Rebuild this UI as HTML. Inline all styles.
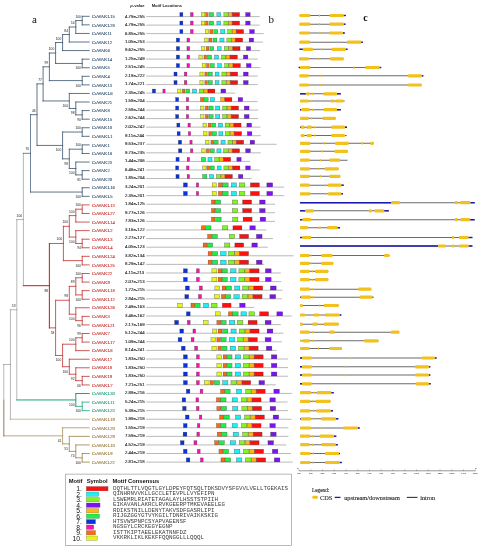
<!DOCTYPE html>
<html><head><meta charset="utf-8"><title>CsWAK / CsWAKL phylogeny, motifs and gene structure</title>
<style>
html,body{margin:0;padding:0;background:#fff;}
svg{display:block;}
text{white-space:pre;}
</style></head>
<body>
<svg width="480" height="550" viewBox="0 0 480 550">
<rect x="0" y="0" width="480" height="550" fill="#ffffff"/>
<g stroke-linecap="square" fill="none">
<line x1="3.80" y1="364.48" x2="3.80" y2="435.84" stroke="#7a7a7a" stroke-width="0.55"/>
<line x1="3.80" y1="364.48" x2="10.40" y2="364.48" stroke="#7a7a7a" stroke-width="0.55"/>
<line x1="10.40" y1="309.73" x2="10.40" y2="419.23" stroke="#7a7a7a" stroke-width="0.55"/>
<line x1="10.40" y1="309.73" x2="16.80" y2="309.73" stroke="#7a7a7a" stroke-width="0.55"/>
<line x1="16.80" y1="219.52" x2="16.80" y2="399.94" stroke="#7a7a7a" stroke-width="0.55"/>
<line x1="16.80" y1="219.52" x2="23.40" y2="219.52" stroke="#7a7a7a" stroke-width="0.55"/>
<line x1="23.40" y1="153.35" x2="23.40" y2="285.68" stroke="#7a7a7a" stroke-width="0.55"/>
<line x1="23.40" y1="153.35" x2="30.50" y2="153.35" stroke="#37526b" stroke-width="0.7"/>
<line x1="30.50" y1="114.66" x2="30.50" y2="192.05" stroke="#37526b" stroke-width="0.7"/>
<line x1="30.50" y1="114.66" x2="37.00" y2="114.66" stroke="#37526b" stroke-width="0.8"/>
<line x1="37.00" y1="83.88" x2="37.00" y2="145.43" stroke="#37526b" stroke-width="0.8"/>
<line x1="37.00" y1="83.88" x2="43.10" y2="83.88" stroke="#37526b" stroke-width="0.8"/>
<line x1="43.10" y1="66.80" x2="43.10" y2="100.96" stroke="#37526b" stroke-width="0.8"/>
<line x1="43.10" y1="66.80" x2="49.40" y2="66.80" stroke="#37526b" stroke-width="0.8"/>
<line x1="49.40" y1="53.00" x2="49.40" y2="80.60" stroke="#37526b" stroke-width="0.8"/>
<line x1="49.40" y1="53.00" x2="55.60" y2="53.00" stroke="#37526b" stroke-width="0.8"/>
<line x1="55.60" y1="42.55" x2="55.60" y2="63.45" stroke="#37526b" stroke-width="0.8"/>
<line x1="55.60" y1="42.55" x2="62.60" y2="42.55" stroke="#37526b" stroke-width="0.8"/>
<line x1="62.60" y1="34.52" x2="62.60" y2="50.59" stroke="#37526b" stroke-width="0.8"/>
<line x1="62.60" y1="34.52" x2="69.30" y2="34.52" stroke="#37526b" stroke-width="0.8"/>
<line x1="69.30" y1="27.02" x2="69.30" y2="42.02" stroke="#37526b" stroke-width="0.8"/>
<line x1="69.30" y1="27.02" x2="75.80" y2="27.02" stroke="#37526b" stroke-width="0.8"/>
<line x1="75.80" y1="20.59" x2="75.80" y2="33.45" stroke="#37526b" stroke-width="0.8"/>
<line x1="75.80" y1="20.59" x2="82.20" y2="20.59" stroke="#37526b" stroke-width="0.8"/>
<line x1="82.20" y1="16.30" x2="82.20" y2="24.87" stroke="#37526b" stroke-width="0.8"/>
<line x1="82.20" y1="16.30" x2="89.20" y2="16.30" stroke="#37526b" stroke-width="0.8"/>
<line x1="82.20" y1="24.87" x2="89.20" y2="24.87" stroke="#37526b" stroke-width="0.8"/>
<line x1="75.80" y1="33.45" x2="89.20" y2="33.45" stroke="#37526b" stroke-width="0.8"/>
<line x1="69.30" y1="42.02" x2="89.20" y2="42.02" stroke="#37526b" stroke-width="0.8"/>
<line x1="62.60" y1="50.59" x2="89.20" y2="50.59" stroke="#37526b" stroke-width="0.8"/>
<line x1="55.60" y1="63.45" x2="82.20" y2="63.45" stroke="#37526b" stroke-width="0.8"/>
<line x1="82.20" y1="59.17" x2="82.20" y2="67.74" stroke="#37526b" stroke-width="0.8"/>
<line x1="82.20" y1="59.17" x2="89.20" y2="59.17" stroke="#37526b" stroke-width="0.8"/>
<line x1="82.20" y1="67.74" x2="89.20" y2="67.74" stroke="#37526b" stroke-width="0.8"/>
<line x1="49.40" y1="80.60" x2="82.20" y2="80.60" stroke="#37526b" stroke-width="0.8"/>
<line x1="82.20" y1="76.31" x2="82.20" y2="84.88" stroke="#37526b" stroke-width="0.8"/>
<line x1="82.20" y1="76.31" x2="89.20" y2="76.31" stroke="#37526b" stroke-width="0.8"/>
<line x1="82.20" y1="84.88" x2="89.20" y2="84.88" stroke="#37526b" stroke-width="0.8"/>
<line x1="43.10" y1="100.96" x2="69.30" y2="100.96" stroke="#37526b" stroke-width="0.8"/>
<line x1="69.30" y1="93.46" x2="69.30" y2="108.46" stroke="#37526b" stroke-width="0.8"/>
<line x1="69.30" y1="93.46" x2="89.20" y2="93.46" stroke="#37526b" stroke-width="0.8"/>
<line x1="69.30" y1="108.46" x2="75.80" y2="108.46" stroke="#37526b" stroke-width="0.8"/>
<line x1="75.80" y1="102.03" x2="75.80" y2="114.89" stroke="#37526b" stroke-width="0.8"/>
<line x1="75.80" y1="102.03" x2="89.20" y2="102.03" stroke="#37526b" stroke-width="0.8"/>
<line x1="75.80" y1="114.89" x2="82.20" y2="114.89" stroke="#37526b" stroke-width="0.8"/>
<line x1="82.20" y1="110.60" x2="82.20" y2="119.18" stroke="#37526b" stroke-width="0.8"/>
<line x1="82.20" y1="110.60" x2="89.20" y2="110.60" stroke="#37526b" stroke-width="0.8"/>
<line x1="82.20" y1="119.18" x2="89.20" y2="119.18" stroke="#37526b" stroke-width="0.8"/>
<line x1="37.00" y1="145.43" x2="62.60" y2="145.43" stroke="#37526b" stroke-width="0.8"/>
<line x1="62.60" y1="132.04" x2="62.60" y2="158.83" stroke="#37526b" stroke-width="0.8"/>
<line x1="62.60" y1="132.04" x2="82.20" y2="132.04" stroke="#37526b" stroke-width="0.8"/>
<line x1="82.20" y1="127.75" x2="82.20" y2="136.32" stroke="#37526b" stroke-width="0.8"/>
<line x1="82.20" y1="127.75" x2="89.20" y2="127.75" stroke="#37526b" stroke-width="0.8"/>
<line x1="82.20" y1="136.32" x2="89.20" y2="136.32" stroke="#37526b" stroke-width="0.8"/>
<line x1="62.60" y1="158.83" x2="69.30" y2="158.83" stroke="#37526b" stroke-width="0.8"/>
<line x1="69.30" y1="149.18" x2="69.30" y2="168.47" stroke="#37526b" stroke-width="0.8"/>
<line x1="69.30" y1="149.18" x2="82.20" y2="149.18" stroke="#37526b" stroke-width="0.8"/>
<line x1="82.20" y1="144.90" x2="82.20" y2="153.47" stroke="#37526b" stroke-width="0.8"/>
<line x1="82.20" y1="144.90" x2="89.20" y2="144.90" stroke="#37526b" stroke-width="0.8"/>
<line x1="82.20" y1="153.47" x2="89.20" y2="153.47" stroke="#37526b" stroke-width="0.8"/>
<line x1="69.30" y1="168.47" x2="75.80" y2="168.47" stroke="#37526b" stroke-width="0.8"/>
<line x1="75.80" y1="162.04" x2="75.80" y2="174.90" stroke="#37526b" stroke-width="0.8"/>
<line x1="75.80" y1="162.04" x2="89.20" y2="162.04" stroke="#37526b" stroke-width="0.8"/>
<line x1="75.80" y1="174.90" x2="82.20" y2="174.90" stroke="#37526b" stroke-width="0.8"/>
<line x1="82.20" y1="170.61" x2="82.20" y2="179.19" stroke="#37526b" stroke-width="0.8"/>
<line x1="82.20" y1="170.61" x2="89.20" y2="170.61" stroke="#37526b" stroke-width="0.8"/>
<line x1="82.20" y1="179.19" x2="89.20" y2="179.19" stroke="#37526b" stroke-width="0.8"/>
<line x1="30.50" y1="192.05" x2="82.20" y2="192.05" stroke="#37526b" stroke-width="0.8"/>
<line x1="82.20" y1="187.76" x2="82.20" y2="196.33" stroke="#37526b" stroke-width="0.8"/>
<line x1="82.20" y1="187.76" x2="89.20" y2="187.76" stroke="#37526b" stroke-width="0.8"/>
<line x1="82.20" y1="196.33" x2="89.20" y2="196.33" stroke="#37526b" stroke-width="0.8"/>
<line x1="23.40" y1="285.68" x2="49.40" y2="285.68" stroke="#c4302e" stroke-width="1.1"/>
<line x1="49.40" y1="243.48" x2="49.40" y2="327.87" stroke="#c4302e" stroke-width="1.1"/>
<line x1="49.40" y1="243.48" x2="63.40" y2="243.48" stroke="#c4302e" stroke-width="0.8"/>
<line x1="63.40" y1="226.34" x2="63.40" y2="260.63" stroke="#c4302e" stroke-width="0.8"/>
<line x1="63.40" y1="226.34" x2="69.30" y2="226.34" stroke="#c4302e" stroke-width="0.8"/>
<line x1="69.30" y1="215.62" x2="69.30" y2="237.05" stroke="#c4302e" stroke-width="0.8"/>
<line x1="69.30" y1="215.62" x2="75.80" y2="215.62" stroke="#c4302e" stroke-width="0.8"/>
<line x1="75.80" y1="209.19" x2="75.80" y2="222.05" stroke="#c4302e" stroke-width="0.8"/>
<line x1="75.80" y1="209.19" x2="82.20" y2="209.19" stroke="#c4302e" stroke-width="0.8"/>
<line x1="82.20" y1="204.91" x2="82.20" y2="213.48" stroke="#c4302e" stroke-width="0.8"/>
<line x1="82.20" y1="204.91" x2="89.20" y2="204.91" stroke="#c4302e" stroke-width="0.8"/>
<line x1="82.20" y1="213.48" x2="89.20" y2="213.48" stroke="#c4302e" stroke-width="0.8"/>
<line x1="75.80" y1="222.05" x2="89.20" y2="222.05" stroke="#c4302e" stroke-width="0.8"/>
<line x1="69.30" y1="237.05" x2="75.80" y2="237.05" stroke="#c4302e" stroke-width="0.8"/>
<line x1="75.80" y1="230.63" x2="75.80" y2="243.48" stroke="#c4302e" stroke-width="0.8"/>
<line x1="75.80" y1="230.63" x2="89.20" y2="230.63" stroke="#c4302e" stroke-width="0.8"/>
<line x1="75.80" y1="243.48" x2="82.20" y2="243.48" stroke="#c4302e" stroke-width="0.8"/>
<line x1="82.20" y1="239.20" x2="82.20" y2="247.77" stroke="#c4302e" stroke-width="0.8"/>
<line x1="82.20" y1="239.20" x2="89.20" y2="239.20" stroke="#c4302e" stroke-width="0.8"/>
<line x1="82.20" y1="247.77" x2="89.20" y2="247.77" stroke="#c4302e" stroke-width="0.8"/>
<line x1="63.40" y1="260.63" x2="82.20" y2="260.63" stroke="#c4302e" stroke-width="0.8"/>
<line x1="82.20" y1="256.34" x2="82.20" y2="264.92" stroke="#c4302e" stroke-width="0.8"/>
<line x1="82.20" y1="256.34" x2="89.20" y2="256.34" stroke="#c4302e" stroke-width="0.8"/>
<line x1="82.20" y1="264.92" x2="89.20" y2="264.92" stroke="#c4302e" stroke-width="0.8"/>
<line x1="49.40" y1="327.87" x2="55.60" y2="327.87" stroke="#c4302e" stroke-width="0.8"/>
<line x1="55.60" y1="300.28" x2="55.60" y2="355.47" stroke="#c4302e" stroke-width="0.8"/>
<line x1="55.60" y1="300.28" x2="69.30" y2="300.28" stroke="#c4302e" stroke-width="0.8"/>
<line x1="69.30" y1="286.35" x2="69.30" y2="314.21" stroke="#c4302e" stroke-width="0.8"/>
<line x1="69.30" y1="286.35" x2="75.80" y2="286.35" stroke="#c4302e" stroke-width="0.8"/>
<line x1="75.80" y1="277.78" x2="75.80" y2="294.92" stroke="#c4302e" stroke-width="0.8"/>
<line x1="75.80" y1="277.78" x2="82.20" y2="277.78" stroke="#c4302e" stroke-width="0.8"/>
<line x1="82.20" y1="273.49" x2="82.20" y2="282.06" stroke="#c4302e" stroke-width="0.8"/>
<line x1="82.20" y1="273.49" x2="89.20" y2="273.49" stroke="#c4302e" stroke-width="0.8"/>
<line x1="82.20" y1="282.06" x2="89.20" y2="282.06" stroke="#c4302e" stroke-width="0.8"/>
<line x1="75.80" y1="294.92" x2="82.20" y2="294.92" stroke="#c4302e" stroke-width="0.8"/>
<line x1="82.20" y1="290.64" x2="82.20" y2="299.21" stroke="#c4302e" stroke-width="0.8"/>
<line x1="82.20" y1="290.64" x2="89.20" y2="290.64" stroke="#c4302e" stroke-width="0.8"/>
<line x1="82.20" y1="299.21" x2="89.20" y2="299.21" stroke="#c4302e" stroke-width="0.8"/>
<line x1="69.30" y1="314.21" x2="75.80" y2="314.21" stroke="#c4302e" stroke-width="0.8"/>
<line x1="75.80" y1="307.78" x2="75.80" y2="320.64" stroke="#c4302e" stroke-width="0.8"/>
<line x1="75.80" y1="307.78" x2="89.20" y2="307.78" stroke="#c4302e" stroke-width="0.8"/>
<line x1="75.80" y1="320.64" x2="82.20" y2="320.64" stroke="#c4302e" stroke-width="0.8"/>
<line x1="82.20" y1="316.36" x2="82.20" y2="324.93" stroke="#c4302e" stroke-width="0.8"/>
<line x1="82.20" y1="316.36" x2="89.20" y2="316.36" stroke="#c4302e" stroke-width="0.8"/>
<line x1="82.20" y1="324.93" x2="89.20" y2="324.93" stroke="#c4302e" stroke-width="0.8"/>
<line x1="55.60" y1="355.47" x2="62.60" y2="355.47" stroke="#c4302e" stroke-width="0.8"/>
<line x1="62.60" y1="344.22" x2="62.60" y2="366.72" stroke="#c4302e" stroke-width="0.8"/>
<line x1="62.60" y1="344.22" x2="75.80" y2="344.22" stroke="#c4302e" stroke-width="0.8"/>
<line x1="75.80" y1="337.79" x2="75.80" y2="350.65" stroke="#c4302e" stroke-width="0.8"/>
<line x1="75.80" y1="337.79" x2="82.20" y2="337.79" stroke="#c4302e" stroke-width="0.8"/>
<line x1="82.20" y1="333.50" x2="82.20" y2="342.07" stroke="#c4302e" stroke-width="0.8"/>
<line x1="82.20" y1="333.50" x2="89.20" y2="333.50" stroke="#c4302e" stroke-width="0.8"/>
<line x1="82.20" y1="342.07" x2="89.20" y2="342.07" stroke="#c4302e" stroke-width="0.8"/>
<line x1="75.80" y1="350.65" x2="89.20" y2="350.65" stroke="#c4302e" stroke-width="0.8"/>
<line x1="62.60" y1="366.72" x2="69.30" y2="366.72" stroke="#c4302e" stroke-width="0.8"/>
<line x1="69.30" y1="359.22" x2="69.30" y2="374.22" stroke="#c4302e" stroke-width="0.8"/>
<line x1="69.30" y1="359.22" x2="89.20" y2="359.22" stroke="#c4302e" stroke-width="0.8"/>
<line x1="69.30" y1="374.22" x2="75.80" y2="374.22" stroke="#c4302e" stroke-width="0.8"/>
<line x1="75.80" y1="367.79" x2="75.80" y2="380.65" stroke="#c4302e" stroke-width="0.8"/>
<line x1="75.80" y1="367.79" x2="89.20" y2="367.79" stroke="#c4302e" stroke-width="0.8"/>
<line x1="75.80" y1="380.65" x2="82.20" y2="380.65" stroke="#c4302e" stroke-width="0.8"/>
<line x1="82.20" y1="376.37" x2="82.20" y2="384.94" stroke="#c4302e" stroke-width="0.8"/>
<line x1="82.20" y1="376.37" x2="89.20" y2="376.37" stroke="#c4302e" stroke-width="0.8"/>
<line x1="82.20" y1="384.94" x2="89.20" y2="384.94" stroke="#c4302e" stroke-width="0.8"/>
<line x1="16.80" y1="399.94" x2="75.80" y2="399.94" stroke="#1ea672" stroke-width="1.0"/>
<line x1="75.80" y1="393.51" x2="75.80" y2="406.37" stroke="#1ea672" stroke-width="1.0"/>
<line x1="75.80" y1="393.51" x2="89.20" y2="393.51" stroke="#1ea672" stroke-width="1.0"/>
<line x1="75.80" y1="406.37" x2="82.20" y2="406.37" stroke="#1ea672" stroke-width="0.8"/>
<line x1="82.20" y1="402.09" x2="82.20" y2="410.66" stroke="#1ea672" stroke-width="0.8"/>
<line x1="82.20" y1="402.09" x2="89.20" y2="402.09" stroke="#1ea672" stroke-width="0.8"/>
<line x1="82.20" y1="410.66" x2="89.20" y2="410.66" stroke="#1ea672" stroke-width="0.8"/>
<line x1="10.40" y1="419.23" x2="89.20" y2="419.23" stroke="#9c8146" stroke-width="0.55"/>
<line x1="3.80" y1="435.84" x2="62.60" y2="435.84" stroke="#9c8146" stroke-width="0.7"/>
<line x1="62.60" y1="427.80" x2="62.60" y2="443.88" stroke="#9c8146" stroke-width="0.7"/>
<line x1="62.60" y1="427.80" x2="89.20" y2="427.80" stroke="#9c8146" stroke-width="0.7"/>
<line x1="62.60" y1="443.88" x2="69.30" y2="443.88" stroke="#9c8146" stroke-width="0.8"/>
<line x1="69.30" y1="436.38" x2="69.30" y2="451.38" stroke="#9c8146" stroke-width="0.8"/>
<line x1="69.30" y1="436.38" x2="89.20" y2="436.38" stroke="#9c8146" stroke-width="0.8"/>
<line x1="69.30" y1="451.38" x2="75.80" y2="451.38" stroke="#9c8146" stroke-width="0.8"/>
<line x1="75.80" y1="444.95" x2="75.80" y2="457.81" stroke="#9c8146" stroke-width="0.8"/>
<line x1="75.80" y1="444.95" x2="89.20" y2="444.95" stroke="#9c8146" stroke-width="0.8"/>
<line x1="75.80" y1="457.81" x2="82.20" y2="457.81" stroke="#9c8146" stroke-width="0.8"/>
<line x1="82.20" y1="453.52" x2="82.20" y2="462.10" stroke="#9c8146" stroke-width="0.8"/>
<line x1="82.20" y1="453.52" x2="89.20" y2="453.52" stroke="#9c8146" stroke-width="0.8"/>
<line x1="82.20" y1="462.10" x2="89.20" y2="462.10" stroke="#9c8146" stroke-width="0.8"/>
<line x1="3.80" y1="400.16" x2="3.80" y2="435.84" stroke="#9c8146" stroke-width="0.7"/>
</g>
<g font-family="'Liberation Sans', sans-serif" font-size="3.3" fill="#222" text-anchor="end">
<text x="15.50" y="306.73">53</text>
<text x="22.10" y="216.52">100</text>
<text x="29.20" y="150.35">70</text>
<text x="35.70" y="111.66">46</text>
<text x="41.80" y="80.88">77</text>
<text x="48.10" y="63.80">99</text>
<text x="54.30" y="50.00">100</text>
<text x="61.30" y="39.55">100</text>
<text x="68.00" y="31.52">84</text>
<text x="74.50" y="24.02">54</text>
<text x="80.90" y="17.59">100</text>
<text x="80.90" y="69.35">100</text>
<text x="80.90" y="86.50">100</text>
<text x="68.00" y="106.86">100</text>
<text x="74.50" y="114.36">98</text>
<text x="80.90" y="120.79">90</text>
<text x="61.30" y="151.33">100</text>
<text x="80.90" y="129.04">100</text>
<text x="68.00" y="164.73">98</text>
<text x="80.90" y="146.18">100</text>
<text x="74.50" y="174.37">100</text>
<text x="80.90" y="180.80">81</text>
<text x="80.90" y="197.95">100</text>
<text x="48.10" y="291.58">88</text>
<text x="62.10" y="240.48">100</text>
<text x="68.00" y="223.34">100</text>
<text x="74.50" y="212.62">100</text>
<text x="80.90" y="206.19">100</text>
<text x="74.50" y="242.95">100</text>
<text x="80.90" y="249.38">94</text>
<text x="80.90" y="266.53">100</text>
<text x="54.30" y="333.77">58</text>
<text x="68.00" y="297.28">98</text>
<text x="74.50" y="283.35">89</text>
<text x="80.90" y="274.78">100</text>
<text x="80.90" y="300.82">100</text>
<text x="74.50" y="320.11">100</text>
<text x="80.90" y="326.54">96</text>
<text x="61.30" y="361.37">100</text>
<text x="74.50" y="341.22">100</text>
<text x="80.90" y="334.79">99</text>
<text x="68.00" y="372.62">100</text>
<text x="74.50" y="380.12">92</text>
<text x="80.90" y="386.55">66</text>
<text x="74.50" y="405.84">100</text>
<text x="80.90" y="412.27">100</text>
<text x="61.30" y="441.74">41</text>
<text x="68.00" y="449.78">55</text>
<text x="74.50" y="457.28">74</text>
<text x="80.90" y="463.71">100</text>
</g>
<g font-family="'Liberation Serif', serif" font-size="4.65">
<text x="92" y="18.00" fill="#36536f" stroke="#36536f" stroke-width="0.1">CsWAKL15</text>
<text x="92" y="26.57" fill="#36536f" stroke="#36536f" stroke-width="0.1">CsWAKL28</text>
<text x="92" y="35.15" fill="#36536f" stroke="#36536f" stroke-width="0.1">CsWAK11</text>
<text x="92" y="43.72" fill="#36536f" stroke="#36536f" stroke-width="0.1">CsWAK12</text>
<text x="92" y="52.29" fill="#36536f" stroke="#36536f" stroke-width="0.1">CsWAK6</text>
<text x="92" y="60.87" fill="#36536f" stroke="#36536f" stroke-width="0.1">CsWAK14</text>
<text x="92" y="69.44" fill="#36536f" stroke="#36536f" stroke-width="0.1">CsWAK5</text>
<text x="92" y="78.01" fill="#36536f" stroke="#36536f" stroke-width="0.1">CsWAK4</text>
<text x="92" y="86.58" fill="#36536f" stroke="#36536f" stroke-width="0.1">CsWAK13</text>
<text x="92" y="95.16" fill="#36536f" stroke="#36536f" stroke-width="0.1">CsWAKL6</text>
<text x="92" y="103.73" fill="#36536f" stroke="#36536f" stroke-width="0.1">CsWAK21</text>
<text x="92" y="112.30" fill="#36536f" stroke="#36536f" stroke-width="0.1">CsWAK8</text>
<text x="92" y="120.88" fill="#36536f" stroke="#36536f" stroke-width="0.1">CsWAK15</text>
<text x="92" y="129.45" fill="#36536f" stroke="#36536f" stroke-width="0.1">CsWAK10</text>
<text x="92" y="138.02" fill="#36536f" stroke="#36536f" stroke-width="0.1">CsWAKL1</text>
<text x="92" y="146.59" fill="#36536f" stroke="#36536f" stroke-width="0.1">CsWAK1</text>
<text x="92" y="155.17" fill="#36536f" stroke="#36536f" stroke-width="0.1">CsWAK16</text>
<text x="92" y="163.74" fill="#36536f" stroke="#36536f" stroke-width="0.1">CsWAK23</text>
<text x="92" y="172.31" fill="#36536f" stroke="#36536f" stroke-width="0.1">CsWAK2</text>
<text x="92" y="180.89" fill="#36536f" stroke="#36536f" stroke-width="0.1">CsWAK20</text>
<text x="92" y="189.46" fill="#36536f" stroke="#36536f" stroke-width="0.1">CsWAKL16</text>
<text x="92" y="198.03" fill="#36536f" stroke="#36536f" stroke-width="0.1">CsWAKL5</text>
<text x="92" y="206.61" fill="#c2302e" stroke="#c2302e" stroke-width="0.1">CsWAKL13</text>
<text x="92" y="215.18" fill="#c2302e" stroke="#c2302e" stroke-width="0.1">CsWAKL27</text>
<text x="92" y="223.75" fill="#c2302e" stroke="#c2302e" stroke-width="0.1">CsWAKL14</text>
<text x="92" y="232.33" fill="#c2302e" stroke="#c2302e" stroke-width="0.1">CsWAKL2</text>
<text x="92" y="240.90" fill="#c2302e" stroke="#c2302e" stroke-width="0.1">CsWAKL3</text>
<text x="92" y="249.47" fill="#c2302e" stroke="#c2302e" stroke-width="0.1">CsWAKL4</text>
<text x="92" y="258.04" fill="#c2302e" stroke="#c2302e" stroke-width="0.1">CsWAKL24</text>
<text x="92" y="266.62" fill="#c2302e" stroke="#c2302e" stroke-width="0.1">CsWAKL25</text>
<text x="92" y="275.19" fill="#c2302e" stroke="#c2302e" stroke-width="0.1">CsWAK22</text>
<text x="92" y="283.76" fill="#c2302e" stroke="#c2302e" stroke-width="0.1">CsWAK9</text>
<text x="92" y="292.34" fill="#c2302e" stroke="#c2302e" stroke-width="0.1">CsWAKL18</text>
<text x="92" y="300.91" fill="#c2302e" stroke="#c2302e" stroke-width="0.1">CsWAKL12</text>
<text x="92" y="309.48" fill="#c2302e" stroke="#c2302e" stroke-width="0.1">CsWAKL26</text>
<text x="92" y="318.06" fill="#c2302e" stroke="#c2302e" stroke-width="0.1">CsWAK3</text>
<text x="92" y="326.63" fill="#c2302e" stroke="#c2302e" stroke-width="0.1">CsWAKL21</text>
<text x="92" y="335.20" fill="#c2302e" stroke="#c2302e" stroke-width="0.1">CsWAK7</text>
<text x="92" y="343.77" fill="#c2302e" stroke="#c2302e" stroke-width="0.1">CsWAKL17</text>
<text x="92" y="352.35" fill="#c2302e" stroke="#c2302e" stroke-width="0.1">CsWAKL8</text>
<text x="92" y="360.92" fill="#c2302e" stroke="#c2302e" stroke-width="0.1">CsWAK17</text>
<text x="92" y="369.49" fill="#c2302e" stroke="#c2302e" stroke-width="0.1">CsWAK18</text>
<text x="92" y="378.07" fill="#c2302e" stroke="#c2302e" stroke-width="0.1">CsWAK19</text>
<text x="92" y="386.64" fill="#c2302e" stroke="#c2302e" stroke-width="0.1">CsWAKL7</text>
<text x="92" y="395.21" fill="#1d9e70" stroke="#1d9e70" stroke-width="0.1">CsWAKL30</text>
<text x="92" y="403.79" fill="#1d9e70" stroke="#1d9e70" stroke-width="0.1">CsWAKL11</text>
<text x="92" y="412.36" fill="#1d9e70" stroke="#1d9e70" stroke-width="0.1">CsWAKL23</text>
<text x="92" y="420.93" fill="#96793c" stroke="#96793c" stroke-width="0.1">CsWAKL19</text>
<text x="92" y="429.50" fill="#96793c" stroke="#96793c" stroke-width="0.1">CsWAKL20</text>
<text x="92" y="438.08" fill="#96793c" stroke="#96793c" stroke-width="0.1">CsWAKL29</text>
<text x="92" y="446.65" fill="#96793c" stroke="#96793c" stroke-width="0.1">CsWAKL10</text>
<text x="92" y="455.22" fill="#96793c" stroke="#96793c" stroke-width="0.1">CsWAKL9</text>
<text x="92" y="463.80" fill="#96793c" stroke="#96793c" stroke-width="0.1">CsWAKL22</text>
</g>
<g font-family="'Liberation Sans', sans-serif" font-size="4.35" fill="#222" stroke="#222" stroke-width="0.12">
<text x="125" y="17.50">4.79e-255</text>
<text x="125" y="26.00">4.79e-255</text>
<text x="125" y="34.50">6.85e-255</text>
<text x="125" y="42.99">1.05e-253</text>
<text x="125" y="51.49">9.62e-255</text>
<text x="125" y="59.99">1.25e-249</text>
<text x="125" y="68.49">2.51e-245</text>
<text x="125" y="76.99">2.18e-222</text>
<text x="125" y="85.48">1.74e-221</text>
<text x="125" y="93.98">2.35e-245</text>
<text x="125" y="102.48">1.58e-204</text>
<text x="125" y="110.98">2.58e-244</text>
<text x="125" y="119.48">2.62e-244</text>
<text x="125" y="128.04">2.02e-242</text>
<text x="125" y="136.60">9.11e-244</text>
<text x="125" y="145.17">9.53e-237</text>
<text x="125" y="153.73">9.73e-235</text>
<text x="125" y="162.30">1.44e-206</text>
<text x="125" y="170.86">6.46e-241</text>
<text x="125" y="179.42">1.85e-204</text>
<text x="125" y="187.99">3.24e-201</text>
<text x="125" y="196.55">2.35e-201</text>
<text x="125" y="205.12">1.84e-125</text>
<text x="125" y="213.68">9.77e-126</text>
<text x="125" y="222.28">7.83e-126</text>
<text x="125" y="230.88">3.16e-122</text>
<text x="125" y="239.49">2.27e-127</text>
<text x="125" y="248.09">4.05e-123</text>
<text x="125" y="256.69">3.82e-134</text>
<text x="125" y="265.29">8.29e-142</text>
<text x="125" y="273.89">4.11e-213</text>
<text x="125" y="282.50">2.07e-213</text>
<text x="125" y="291.10">1.72e-215</text>
<text x="125" y="299.70">2.84e-215</text>
<text x="125" y="308.30">2.49e-163</text>
<text x="125" y="316.90">3.46e-162</text>
<text x="125" y="325.51">2.17e-169</text>
<text x="125" y="334.11">5.12e-244</text>
<text x="125" y="342.71">1.09e-244</text>
<text x="125" y="351.31">8.14e-241</text>
<text x="125" y="359.92">1.83e-250</text>
<text x="125" y="368.52">1.83e-250</text>
<text x="125" y="377.12">1.83e-250</text>
<text x="125" y="385.72">7.21e-251</text>
<text x="125" y="394.32">2.88e-216</text>
<text x="125" y="402.93">5.24e-215</text>
<text x="125" y="411.53">5.38e-215</text>
<text x="125" y="420.13">1.99e-218</text>
<text x="125" y="428.70">1.55e-219</text>
<text x="125" y="437.28">7.59e-219</text>
<text x="125" y="445.85">4.52e-219</text>
<text x="125" y="454.42">2.44e-219</text>
<text x="125" y="463.00">2.81e-218</text>
</g>
<g font-family="'Liberation Sans', sans-serif" font-size="4.1" font-weight="bold" fill="#222">
<text x="130.3" y="7"><tspan font-style="italic">p</tspan>-value</text>
<text x="151.7" y="7">Motif Locations</text>
</g>
<g font-family="'Liberation Serif', serif" fill="#111">
<text x="32" y="23" font-size="11">a</text>
<text x="268.5" y="22.7" font-size="11">b</text>
<text x="363.2" y="21" font-size="10" font-weight="bold">c</text>
</g>
<g>
<line x1="146.2" y1="16.60" x2="259.7" y2="16.60" stroke="#8c8c8c" stroke-width="0.6"/>
<rect x="179.85" y="12.60" width="3.00" height="3.8" fill="#0a32e0" stroke="#000" stroke-opacity="0.5" stroke-width="0.45"/>
<rect x="190.45" y="12.60" width="2.70" height="3.8" fill="#ff10b0" stroke="#000" stroke-opacity="0.5" stroke-width="0.45"/>
<rect x="201.35" y="12.60" width="3.50" height="3.8" fill="#e4f520" stroke="#000" stroke-opacity="0.5" stroke-width="0.45"/>
<rect x="205.65" y="12.60" width="2.50" height="3.8" fill="#ff6a10" stroke="#000" stroke-opacity="0.5" stroke-width="0.45"/>
<rect x="209.35" y="12.60" width="4.20" height="3.8" fill="#20ee4a" stroke="#000" stroke-opacity="0.5" stroke-width="0.45"/>
<rect x="216.85" y="12.60" width="3.80" height="3.8" fill="#20f0f5" stroke="#000" stroke-opacity="0.5" stroke-width="0.45"/>
<rect x="223.85" y="12.60" width="4.30" height="3.8" fill="#84f522" stroke="#000" stroke-opacity="0.5" stroke-width="0.45"/>
<rect x="228.45" y="12.60" width="3.60" height="3.8" fill="#ffb514" stroke="#000" stroke-opacity="0.5" stroke-width="0.45"/>
<rect x="232.35" y="12.60" width="7.20" height="3.8" fill="#ff1010" stroke="#000" stroke-opacity="0.5" stroke-width="0.45"/>
<rect x="245.65" y="12.60" width="4.50" height="3.8" fill="#7d14f0" stroke="#000" stroke-opacity="0.5" stroke-width="0.45"/>
<line x1="146.2" y1="25.10" x2="259.7" y2="25.10" stroke="#8c8c8c" stroke-width="0.6"/>
<rect x="179.85" y="21.10" width="3.00" height="3.8" fill="#0a32e0" stroke="#000" stroke-opacity="0.5" stroke-width="0.45"/>
<rect x="190.45" y="21.10" width="2.70" height="3.8" fill="#ff10b0" stroke="#000" stroke-opacity="0.5" stroke-width="0.45"/>
<rect x="201.35" y="21.10" width="3.50" height="3.8" fill="#e4f520" stroke="#000" stroke-opacity="0.5" stroke-width="0.45"/>
<rect x="205.65" y="21.10" width="2.50" height="3.8" fill="#ff6a10" stroke="#000" stroke-opacity="0.5" stroke-width="0.45"/>
<rect x="209.35" y="21.10" width="4.20" height="3.8" fill="#20ee4a" stroke="#000" stroke-opacity="0.5" stroke-width="0.45"/>
<rect x="216.85" y="21.10" width="3.80" height="3.8" fill="#20f0f5" stroke="#000" stroke-opacity="0.5" stroke-width="0.45"/>
<rect x="223.85" y="21.10" width="4.30" height="3.8" fill="#84f522" stroke="#000" stroke-opacity="0.5" stroke-width="0.45"/>
<rect x="228.45" y="21.10" width="3.60" height="3.8" fill="#ffb514" stroke="#000" stroke-opacity="0.5" stroke-width="0.45"/>
<rect x="232.35" y="21.10" width="7.20" height="3.8" fill="#ff1010" stroke="#000" stroke-opacity="0.5" stroke-width="0.45"/>
<rect x="245.65" y="21.10" width="4.50" height="3.8" fill="#7d14f0" stroke="#000" stroke-opacity="0.5" stroke-width="0.45"/>
<line x1="146.2" y1="33.60" x2="263.7" y2="33.60" stroke="#8c8c8c" stroke-width="0.6"/>
<rect x="179.85" y="29.60" width="3.00" height="3.8" fill="#0a32e0" stroke="#000" stroke-opacity="0.5" stroke-width="0.45"/>
<rect x="190.45" y="29.60" width="2.70" height="3.8" fill="#ff10b0" stroke="#000" stroke-opacity="0.5" stroke-width="0.45"/>
<rect x="205.45" y="29.60" width="3.20" height="3.8" fill="#e4f520" stroke="#000" stroke-opacity="0.5" stroke-width="0.45"/>
<rect x="209.85" y="29.60" width="3.00" height="3.8" fill="#ff6a10" stroke="#000" stroke-opacity="0.5" stroke-width="0.45"/>
<rect x="213.85" y="29.60" width="3.80" height="3.8" fill="#20ee4a" stroke="#000" stroke-opacity="0.5" stroke-width="0.45"/>
<rect x="220.65" y="29.60" width="4.20" height="3.8" fill="#20f0f5" stroke="#000" stroke-opacity="0.5" stroke-width="0.45"/>
<rect x="227.65" y="29.60" width="4.40" height="3.8" fill="#84f522" stroke="#000" stroke-opacity="0.5" stroke-width="0.45"/>
<rect x="232.35" y="29.60" width="3.70" height="3.8" fill="#ffb514" stroke="#000" stroke-opacity="0.5" stroke-width="0.45"/>
<rect x="236.35" y="29.60" width="7.20" height="3.8" fill="#ff1010" stroke="#000" stroke-opacity="0.5" stroke-width="0.45"/>
<rect x="249.65" y="29.60" width="4.70" height="3.8" fill="#7d14f0" stroke="#000" stroke-opacity="0.5" stroke-width="0.45"/>
<line x1="146.2" y1="42.09" x2="263.0" y2="42.09" stroke="#8c8c8c" stroke-width="0.6"/>
<rect x="176.35" y="38.09" width="3.20" height="3.8" fill="#0a32e0" stroke="#000" stroke-opacity="0.5" stroke-width="0.45"/>
<rect x="186.95" y="38.09" width="2.70" height="3.8" fill="#ff10b0" stroke="#000" stroke-opacity="0.5" stroke-width="0.45"/>
<rect x="204.65" y="38.09" width="3.50" height="3.8" fill="#e4f520" stroke="#000" stroke-opacity="0.5" stroke-width="0.45"/>
<rect x="208.95" y="38.09" width="2.90" height="3.8" fill="#ff6a10" stroke="#000" stroke-opacity="0.5" stroke-width="0.45"/>
<rect x="212.95" y="38.09" width="3.90" height="3.8" fill="#20ee4a" stroke="#000" stroke-opacity="0.5" stroke-width="0.45"/>
<rect x="219.85" y="38.09" width="4.20" height="3.8" fill="#20f0f5" stroke="#000" stroke-opacity="0.5" stroke-width="0.45"/>
<rect x="226.85" y="38.09" width="4.30" height="3.8" fill="#84f522" stroke="#000" stroke-opacity="0.5" stroke-width="0.45"/>
<rect x="231.45" y="38.09" width="3.70" height="3.8" fill="#ffb514" stroke="#000" stroke-opacity="0.5" stroke-width="0.45"/>
<rect x="235.45" y="38.09" width="7.20" height="3.8" fill="#ff1010" stroke="#000" stroke-opacity="0.5" stroke-width="0.45"/>
<rect x="249.15" y="38.09" width="4.50" height="3.8" fill="#7d14f0" stroke="#000" stroke-opacity="0.5" stroke-width="0.45"/>
<line x1="146.2" y1="50.59" x2="260.0" y2="50.59" stroke="#8c8c8c" stroke-width="0.6"/>
<rect x="176.35" y="46.59" width="3.20" height="3.8" fill="#0a32e0" stroke="#000" stroke-opacity="0.5" stroke-width="0.45"/>
<rect x="186.95" y="46.59" width="2.70" height="3.8" fill="#ff10b0" stroke="#000" stroke-opacity="0.5" stroke-width="0.45"/>
<rect x="201.45" y="46.59" width="3.40" height="3.8" fill="#e4f520" stroke="#000" stroke-opacity="0.5" stroke-width="0.45"/>
<rect x="206.15" y="46.59" width="2.70" height="3.8" fill="#ff6a10" stroke="#000" stroke-opacity="0.5" stroke-width="0.45"/>
<rect x="209.85" y="46.59" width="3.80" height="3.8" fill="#20ee4a" stroke="#000" stroke-opacity="0.5" stroke-width="0.45"/>
<rect x="217.35" y="46.59" width="3.80" height="3.8" fill="#20f0f5" stroke="#000" stroke-opacity="0.5" stroke-width="0.45"/>
<rect x="224.35" y="46.59" width="4.20" height="3.8" fill="#84f522" stroke="#000" stroke-opacity="0.5" stroke-width="0.45"/>
<rect x="228.85" y="46.59" width="3.70" height="3.8" fill="#ffb514" stroke="#000" stroke-opacity="0.5" stroke-width="0.45"/>
<rect x="232.85" y="46.59" width="7.20" height="3.8" fill="#ff1010" stroke="#000" stroke-opacity="0.5" stroke-width="0.45"/>
<rect x="246.35" y="46.59" width="4.30" height="3.8" fill="#7d14f0" stroke="#000" stroke-opacity="0.5" stroke-width="0.45"/>
<line x1="146.2" y1="59.09" x2="257.8" y2="59.09" stroke="#8c8c8c" stroke-width="0.6"/>
<rect x="176.35" y="55.09" width="3.20" height="3.8" fill="#0a32e0" stroke="#000" stroke-opacity="0.5" stroke-width="0.45"/>
<rect x="186.95" y="55.09" width="2.70" height="3.8" fill="#ff10b0" stroke="#000" stroke-opacity="0.5" stroke-width="0.45"/>
<rect x="198.85" y="55.09" width="3.50" height="3.8" fill="#e4f520" stroke="#000" stroke-opacity="0.5" stroke-width="0.45"/>
<rect x="203.95" y="55.09" width="2.60" height="3.8" fill="#ff6a10" stroke="#000" stroke-opacity="0.5" stroke-width="0.45"/>
<rect x="207.35" y="55.09" width="4.20" height="3.8" fill="#20ee4a" stroke="#000" stroke-opacity="0.5" stroke-width="0.45"/>
<rect x="214.65" y="55.09" width="3.90" height="3.8" fill="#20f0f5" stroke="#000" stroke-opacity="0.5" stroke-width="0.45"/>
<rect x="221.45" y="55.09" width="4.20" height="3.8" fill="#84f522" stroke="#000" stroke-opacity="0.5" stroke-width="0.45"/>
<rect x="225.95" y="55.09" width="3.90" height="3.8" fill="#ffb514" stroke="#000" stroke-opacity="0.5" stroke-width="0.45"/>
<rect x="230.15" y="55.09" width="7.20" height="3.8" fill="#ff1010" stroke="#000" stroke-opacity="0.5" stroke-width="0.45"/>
<rect x="243.45" y="55.09" width="4.40" height="3.8" fill="#7d14f0" stroke="#000" stroke-opacity="0.5" stroke-width="0.45"/>
<line x1="146.2" y1="67.59" x2="260.5" y2="67.59" stroke="#8c8c8c" stroke-width="0.6"/>
<rect x="176.35" y="63.59" width="3.20" height="3.8" fill="#0a32e0" stroke="#000" stroke-opacity="0.5" stroke-width="0.45"/>
<rect x="186.95" y="63.59" width="2.70" height="3.8" fill="#ff10b0" stroke="#000" stroke-opacity="0.5" stroke-width="0.45"/>
<rect x="202.15" y="63.59" width="3.50" height="3.8" fill="#e4f520" stroke="#000" stroke-opacity="0.5" stroke-width="0.45"/>
<rect x="206.65" y="63.59" width="2.50" height="3.8" fill="#ff6a10" stroke="#000" stroke-opacity="0.5" stroke-width="0.45"/>
<rect x="210.35" y="63.59" width="4.00" height="3.8" fill="#20ee4a" stroke="#000" stroke-opacity="0.5" stroke-width="0.45"/>
<rect x="217.65" y="63.59" width="3.90" height="3.8" fill="#20f0f5" stroke="#000" stroke-opacity="0.5" stroke-width="0.45"/>
<rect x="224.65" y="63.59" width="4.00" height="3.8" fill="#84f522" stroke="#000" stroke-opacity="0.5" stroke-width="0.45"/>
<rect x="228.95" y="63.59" width="3.90" height="3.8" fill="#ffb514" stroke="#000" stroke-opacity="0.5" stroke-width="0.45"/>
<rect x="233.15" y="63.59" width="7.20" height="3.8" fill="#ff1010" stroke="#000" stroke-opacity="0.5" stroke-width="0.45"/>
<rect x="246.45" y="63.59" width="4.60" height="3.8" fill="#7d14f0" stroke="#000" stroke-opacity="0.5" stroke-width="0.45"/>
<line x1="146.2" y1="76.09" x2="257.8" y2="76.09" stroke="#8c8c8c" stroke-width="0.6"/>
<rect x="173.95" y="72.09" width="3.10" height="3.8" fill="#0a32e0" stroke="#000" stroke-opacity="0.5" stroke-width="0.45"/>
<rect x="184.35" y="72.09" width="2.50" height="3.8" fill="#ff10b0" stroke="#000" stroke-opacity="0.5" stroke-width="0.45"/>
<rect x="199.85" y="72.09" width="3.30" height="3.8" fill="#e4f520" stroke="#000" stroke-opacity="0.5" stroke-width="0.45"/>
<rect x="204.85" y="72.09" width="2.50" height="3.8" fill="#ff6a10" stroke="#000" stroke-opacity="0.5" stroke-width="0.45"/>
<rect x="208.15" y="72.09" width="4.20" height="3.8" fill="#20ee4a" stroke="#000" stroke-opacity="0.5" stroke-width="0.45"/>
<rect x="215.15" y="72.09" width="3.90" height="3.8" fill="#20f0f5" stroke="#000" stroke-opacity="0.5" stroke-width="0.45"/>
<rect x="221.85" y="72.09" width="4.30" height="3.8" fill="#84f522" stroke="#000" stroke-opacity="0.5" stroke-width="0.45"/>
<rect x="226.45" y="72.09" width="3.70" height="3.8" fill="#ffb514" stroke="#000" stroke-opacity="0.5" stroke-width="0.45"/>
<rect x="230.45" y="72.09" width="7.20" height="3.8" fill="#ff1010" stroke="#000" stroke-opacity="0.5" stroke-width="0.45"/>
<rect x="243.45" y="72.09" width="4.70" height="3.8" fill="#7d14f0" stroke="#000" stroke-opacity="0.5" stroke-width="0.45"/>
<line x1="146.2" y1="84.58" x2="257.8" y2="84.58" stroke="#8c8c8c" stroke-width="0.6"/>
<rect x="173.95" y="80.58" width="3.10" height="3.8" fill="#0a32e0" stroke="#000" stroke-opacity="0.5" stroke-width="0.45"/>
<rect x="184.35" y="80.58" width="2.50" height="3.8" fill="#ff10b0" stroke="#000" stroke-opacity="0.5" stroke-width="0.45"/>
<rect x="199.85" y="80.58" width="3.30" height="3.8" fill="#e4f520" stroke="#000" stroke-opacity="0.5" stroke-width="0.45"/>
<rect x="204.85" y="80.58" width="2.50" height="3.8" fill="#ff6a10" stroke="#000" stroke-opacity="0.5" stroke-width="0.45"/>
<rect x="208.15" y="80.58" width="4.20" height="3.8" fill="#20ee4a" stroke="#000" stroke-opacity="0.5" stroke-width="0.45"/>
<rect x="215.15" y="80.58" width="3.90" height="3.8" fill="#20f0f5" stroke="#000" stroke-opacity="0.5" stroke-width="0.45"/>
<rect x="221.85" y="80.58" width="4.30" height="3.8" fill="#84f522" stroke="#000" stroke-opacity="0.5" stroke-width="0.45"/>
<rect x="226.45" y="80.58" width="3.70" height="3.8" fill="#ffb514" stroke="#000" stroke-opacity="0.5" stroke-width="0.45"/>
<rect x="230.45" y="80.58" width="7.20" height="3.8" fill="#ff1010" stroke="#000" stroke-opacity="0.5" stroke-width="0.45"/>
<rect x="243.45" y="80.58" width="4.70" height="3.8" fill="#7d14f0" stroke="#000" stroke-opacity="0.5" stroke-width="0.45"/>
<line x1="146.2" y1="93.08" x2="235.0" y2="93.08" stroke="#8c8c8c" stroke-width="0.6"/>
<rect x="152.35" y="89.08" width="3.20" height="3.8" fill="#0a32e0" stroke="#000" stroke-opacity="0.5" stroke-width="0.45"/>
<rect x="162.85" y="89.08" width="2.30" height="3.8" fill="#ff10b0" stroke="#000" stroke-opacity="0.5" stroke-width="0.45"/>
<rect x="177.65" y="89.08" width="3.40" height="3.8" fill="#e4f520" stroke="#000" stroke-opacity="0.5" stroke-width="0.45"/>
<rect x="182.35" y="89.08" width="2.50" height="3.8" fill="#ff6a10" stroke="#000" stroke-opacity="0.5" stroke-width="0.45"/>
<rect x="185.85" y="89.08" width="3.80" height="3.8" fill="#20ee4a" stroke="#000" stroke-opacity="0.5" stroke-width="0.45"/>
<rect x="192.45" y="89.08" width="4.10" height="3.8" fill="#20f0f5" stroke="#000" stroke-opacity="0.5" stroke-width="0.45"/>
<rect x="199.35" y="89.08" width="4.30" height="3.8" fill="#84f522" stroke="#000" stroke-opacity="0.5" stroke-width="0.45"/>
<rect x="203.95" y="89.08" width="3.70" height="3.8" fill="#ffb514" stroke="#000" stroke-opacity="0.5" stroke-width="0.45"/>
<rect x="207.95" y="89.08" width="6.90" height="3.8" fill="#ff1010" stroke="#000" stroke-opacity="0.5" stroke-width="0.45"/>
<rect x="220.95" y="89.08" width="4.70" height="3.8" fill="#7d14f0" stroke="#000" stroke-opacity="0.5" stroke-width="0.45"/>
<line x1="146.2" y1="101.58" x2="257.5" y2="101.58" stroke="#8c8c8c" stroke-width="0.6"/>
<rect x="175.65" y="97.58" width="3.00" height="3.8" fill="#0a32e0" stroke="#000" stroke-opacity="0.5" stroke-width="0.45"/>
<rect x="186.35" y="97.58" width="2.30" height="3.8" fill="#ff10b0" stroke="#000" stroke-opacity="0.5" stroke-width="0.45"/>
<rect x="200.45" y="97.58" width="3.10" height="3.8" fill="#ff6a10" stroke="#000" stroke-opacity="0.5" stroke-width="0.45"/>
<rect x="203.95" y="97.58" width="4.20" height="3.8" fill="#20ee4a" stroke="#000" stroke-opacity="0.5" stroke-width="0.45"/>
<rect x="210.45" y="97.58" width="4.10" height="3.8" fill="#20f0f5" stroke="#000" stroke-opacity="0.5" stroke-width="0.45"/>
<rect x="220.65" y="97.58" width="3.90" height="3.8" fill="#ffb514" stroke="#000" stroke-opacity="0.5" stroke-width="0.45"/>
<rect x="224.85" y="97.58" width="7.00" height="3.8" fill="#ff1010" stroke="#000" stroke-opacity="0.5" stroke-width="0.45"/>
<rect x="238.15" y="97.58" width="4.50" height="3.8" fill="#7d14f0" stroke="#000" stroke-opacity="0.5" stroke-width="0.45"/>
<line x1="146.2" y1="110.08" x2="258.3" y2="110.08" stroke="#8c8c8c" stroke-width="0.6"/>
<rect x="175.65" y="106.08" width="3.00" height="3.8" fill="#0a32e0" stroke="#000" stroke-opacity="0.5" stroke-width="0.45"/>
<rect x="186.35" y="106.08" width="2.30" height="3.8" fill="#ff10b0" stroke="#000" stroke-opacity="0.5" stroke-width="0.45"/>
<rect x="200.45" y="106.08" width="3.60" height="3.8" fill="#e4f520" stroke="#000" stroke-opacity="0.5" stroke-width="0.45"/>
<rect x="205.45" y="106.08" width="2.70" height="3.8" fill="#ff6a10" stroke="#000" stroke-opacity="0.5" stroke-width="0.45"/>
<rect x="208.95" y="106.08" width="4.20" height="3.8" fill="#20ee4a" stroke="#000" stroke-opacity="0.5" stroke-width="0.45"/>
<rect x="215.65" y="106.08" width="4.20" height="3.8" fill="#20f0f5" stroke="#000" stroke-opacity="0.5" stroke-width="0.45"/>
<rect x="222.65" y="106.08" width="4.20" height="3.8" fill="#84f522" stroke="#000" stroke-opacity="0.5" stroke-width="0.45"/>
<rect x="227.15" y="106.08" width="3.90" height="3.8" fill="#ffb514" stroke="#000" stroke-opacity="0.5" stroke-width="0.45"/>
<rect x="231.35" y="106.08" width="7.20" height="3.8" fill="#ff1010" stroke="#000" stroke-opacity="0.5" stroke-width="0.45"/>
<rect x="244.35" y="106.08" width="4.70" height="3.8" fill="#7d14f0" stroke="#000" stroke-opacity="0.5" stroke-width="0.45"/>
<line x1="146.2" y1="118.58" x2="258.3" y2="118.58" stroke="#8c8c8c" stroke-width="0.6"/>
<rect x="175.65" y="114.58" width="3.00" height="3.8" fill="#0a32e0" stroke="#000" stroke-opacity="0.5" stroke-width="0.45"/>
<rect x="186.35" y="114.58" width="2.30" height="3.8" fill="#ff10b0" stroke="#000" stroke-opacity="0.5" stroke-width="0.45"/>
<rect x="200.45" y="114.58" width="3.60" height="3.8" fill="#e4f520" stroke="#000" stroke-opacity="0.5" stroke-width="0.45"/>
<rect x="205.45" y="114.58" width="2.70" height="3.8" fill="#ff6a10" stroke="#000" stroke-opacity="0.5" stroke-width="0.45"/>
<rect x="208.95" y="114.58" width="4.20" height="3.8" fill="#20ee4a" stroke="#000" stroke-opacity="0.5" stroke-width="0.45"/>
<rect x="215.65" y="114.58" width="4.20" height="3.8" fill="#20f0f5" stroke="#000" stroke-opacity="0.5" stroke-width="0.45"/>
<rect x="222.65" y="114.58" width="4.20" height="3.8" fill="#84f522" stroke="#000" stroke-opacity="0.5" stroke-width="0.45"/>
<rect x="227.15" y="114.58" width="3.90" height="3.8" fill="#ffb514" stroke="#000" stroke-opacity="0.5" stroke-width="0.45"/>
<rect x="231.35" y="114.58" width="7.20" height="3.8" fill="#ff1010" stroke="#000" stroke-opacity="0.5" stroke-width="0.45"/>
<rect x="244.35" y="114.58" width="4.70" height="3.8" fill="#7d14f0" stroke="#000" stroke-opacity="0.5" stroke-width="0.45"/>
<line x1="146.2" y1="127.14" x2="260.5" y2="127.14" stroke="#8c8c8c" stroke-width="0.6"/>
<rect x="176.85" y="123.14" width="3.00" height="3.8" fill="#0a32e0" stroke="#000" stroke-opacity="0.5" stroke-width="0.45"/>
<rect x="187.95" y="123.14" width="2.40" height="3.8" fill="#ff10b0" stroke="#000" stroke-opacity="0.5" stroke-width="0.45"/>
<rect x="202.95" y="123.14" width="3.60" height="3.8" fill="#e4f520" stroke="#000" stroke-opacity="0.5" stroke-width="0.45"/>
<rect x="208.15" y="123.14" width="2.90" height="3.8" fill="#ff6a10" stroke="#000" stroke-opacity="0.5" stroke-width="0.45"/>
<rect x="211.85" y="123.14" width="3.80" height="3.8" fill="#20ee4a" stroke="#000" stroke-opacity="0.5" stroke-width="0.45"/>
<rect x="218.45" y="123.14" width="4.20" height="3.8" fill="#20f0f5" stroke="#000" stroke-opacity="0.5" stroke-width="0.45"/>
<rect x="225.15" y="123.14" width="4.40" height="3.8" fill="#84f522" stroke="#000" stroke-opacity="0.5" stroke-width="0.45"/>
<rect x="229.85" y="123.14" width="3.70" height="3.8" fill="#ffb514" stroke="#000" stroke-opacity="0.5" stroke-width="0.45"/>
<rect x="233.85" y="123.14" width="7.20" height="3.8" fill="#ff1010" stroke="#000" stroke-opacity="0.5" stroke-width="0.45"/>
<rect x="246.85" y="123.14" width="4.70" height="3.8" fill="#7d14f0" stroke="#000" stroke-opacity="0.5" stroke-width="0.45"/>
<line x1="146.2" y1="135.70" x2="260.8" y2="135.70" stroke="#8c8c8c" stroke-width="0.6"/>
<rect x="177.15" y="131.70" width="3.00" height="3.8" fill="#0a32e0" stroke="#000" stroke-opacity="0.5" stroke-width="0.45"/>
<rect x="188.35" y="131.70" width="2.30" height="3.8" fill="#ff10b0" stroke="#000" stroke-opacity="0.5" stroke-width="0.45"/>
<rect x="203.45" y="131.70" width="3.60" height="3.8" fill="#e4f520" stroke="#000" stroke-opacity="0.5" stroke-width="0.45"/>
<rect x="208.85" y="131.70" width="2.70" height="3.8" fill="#ff6a10" stroke="#000" stroke-opacity="0.5" stroke-width="0.45"/>
<rect x="212.15" y="131.70" width="4.40" height="3.8" fill="#20ee4a" stroke="#000" stroke-opacity="0.5" stroke-width="0.45"/>
<rect x="218.85" y="131.70" width="4.00" height="3.8" fill="#20f0f5" stroke="#000" stroke-opacity="0.5" stroke-width="0.45"/>
<rect x="225.45" y="131.70" width="4.40" height="3.8" fill="#84f522" stroke="#000" stroke-opacity="0.5" stroke-width="0.45"/>
<rect x="230.15" y="131.70" width="3.90" height="3.8" fill="#ffb514" stroke="#000" stroke-opacity="0.5" stroke-width="0.45"/>
<rect x="234.35" y="131.70" width="7.20" height="3.8" fill="#ff1010" stroke="#000" stroke-opacity="0.5" stroke-width="0.45"/>
<rect x="247.35" y="131.70" width="4.50" height="3.8" fill="#7d14f0" stroke="#000" stroke-opacity="0.5" stroke-width="0.45"/>
<line x1="146.2" y1="144.27" x2="276.7" y2="144.27" stroke="#8c8c8c" stroke-width="0.6"/>
<rect x="178.35" y="140.27" width="3.20" height="3.8" fill="#0a32e0" stroke="#000" stroke-opacity="0.5" stroke-width="0.45"/>
<rect x="189.85" y="140.27" width="2.30" height="3.8" fill="#ff10b0" stroke="#000" stroke-opacity="0.5" stroke-width="0.45"/>
<rect x="205.45" y="140.27" width="3.60" height="3.8" fill="#e4f520" stroke="#000" stroke-opacity="0.5" stroke-width="0.45"/>
<rect x="210.95" y="140.27" width="2.40" height="3.8" fill="#ff6a10" stroke="#000" stroke-opacity="0.5" stroke-width="0.45"/>
<rect x="213.85" y="140.27" width="4.30" height="3.8" fill="#20ee4a" stroke="#000" stroke-opacity="0.5" stroke-width="0.45"/>
<rect x="220.95" y="140.27" width="4.20" height="3.8" fill="#20f0f5" stroke="#000" stroke-opacity="0.5" stroke-width="0.45"/>
<rect x="227.95" y="140.27" width="4.40" height="3.8" fill="#84f522" stroke="#000" stroke-opacity="0.5" stroke-width="0.45"/>
<rect x="232.65" y="140.27" width="3.50" height="3.8" fill="#ffb514" stroke="#000" stroke-opacity="0.5" stroke-width="0.45"/>
<rect x="236.45" y="140.27" width="7.20" height="3.8" fill="#ff1010" stroke="#000" stroke-opacity="0.5" stroke-width="0.45"/>
<rect x="250.15" y="140.27" width="4.40" height="3.8" fill="#7d14f0" stroke="#000" stroke-opacity="0.5" stroke-width="0.45"/>
<line x1="146.2" y1="152.83" x2="260.8" y2="152.83" stroke="#8c8c8c" stroke-width="0.6"/>
<rect x="178.45" y="148.83" width="3.40" height="3.8" fill="#0a32e0" stroke="#000" stroke-opacity="0.5" stroke-width="0.45"/>
<rect x="190.45" y="148.83" width="2.40" height="3.8" fill="#ff10b0" stroke="#000" stroke-opacity="0.5" stroke-width="0.45"/>
<rect x="201.45" y="148.83" width="3.70" height="3.8" fill="#e4f520" stroke="#000" stroke-opacity="0.5" stroke-width="0.45"/>
<rect x="206.35" y="148.83" width="3.00" height="3.8" fill="#ff6a10" stroke="#000" stroke-opacity="0.5" stroke-width="0.45"/>
<rect x="210.15" y="148.83" width="4.20" height="3.8" fill="#20ee4a" stroke="#000" stroke-opacity="0.5" stroke-width="0.45"/>
<rect x="216.85" y="148.83" width="4.20" height="3.8" fill="#20f0f5" stroke="#000" stroke-opacity="0.5" stroke-width="0.45"/>
<rect x="223.45" y="148.83" width="4.70" height="3.8" fill="#84f522" stroke="#000" stroke-opacity="0.5" stroke-width="0.45"/>
<rect x="228.45" y="148.83" width="3.60" height="3.8" fill="#ffb514" stroke="#000" stroke-opacity="0.5" stroke-width="0.45"/>
<rect x="232.35" y="148.83" width="7.20" height="3.8" fill="#ff1010" stroke="#000" stroke-opacity="0.5" stroke-width="0.45"/>
<rect x="245.65" y="148.83" width="4.70" height="3.8" fill="#7d14f0" stroke="#000" stroke-opacity="0.5" stroke-width="0.45"/>
<line x1="146.2" y1="161.40" x2="250.0" y2="161.40" stroke="#8c8c8c" stroke-width="0.6"/>
<rect x="175.95" y="157.40" width="3.20" height="3.8" fill="#0a32e0" stroke="#000" stroke-opacity="0.5" stroke-width="0.45"/>
<rect x="187.15" y="157.40" width="2.40" height="3.8" fill="#ff10b0" stroke="#000" stroke-opacity="0.5" stroke-width="0.45"/>
<rect x="201.35" y="157.40" width="4.30" height="3.8" fill="#20ee4a" stroke="#000" stroke-opacity="0.5" stroke-width="0.45"/>
<rect x="207.95" y="157.40" width="4.10" height="3.8" fill="#20f0f5" stroke="#000" stroke-opacity="0.5" stroke-width="0.45"/>
<rect x="214.65" y="157.40" width="4.40" height="3.8" fill="#84f522" stroke="#000" stroke-opacity="0.5" stroke-width="0.45"/>
<rect x="219.35" y="157.40" width="3.80" height="3.8" fill="#ffb514" stroke="#000" stroke-opacity="0.5" stroke-width="0.45"/>
<rect x="223.45" y="157.40" width="7.20" height="3.8" fill="#ff1010" stroke="#000" stroke-opacity="0.5" stroke-width="0.45"/>
<rect x="236.85" y="157.40" width="4.30" height="3.8" fill="#7d14f0" stroke="#000" stroke-opacity="0.5" stroke-width="0.45"/>
<line x1="146.2" y1="169.96" x2="259.7" y2="169.96" stroke="#8c8c8c" stroke-width="0.6"/>
<rect x="175.65" y="165.96" width="3.00" height="3.8" fill="#0a32e0" stroke="#000" stroke-opacity="0.5" stroke-width="0.45"/>
<rect x="186.45" y="165.96" width="2.60" height="3.8" fill="#ff10b0" stroke="#000" stroke-opacity="0.5" stroke-width="0.45"/>
<rect x="202.65" y="165.96" width="3.40" height="3.8" fill="#e4f520" stroke="#000" stroke-opacity="0.5" stroke-width="0.45"/>
<rect x="206.85" y="165.96" width="2.70" height="3.8" fill="#ff6a10" stroke="#000" stroke-opacity="0.5" stroke-width="0.45"/>
<rect x="210.15" y="165.96" width="4.20" height="3.8" fill="#20ee4a" stroke="#000" stroke-opacity="0.5" stroke-width="0.45"/>
<rect x="217.15" y="165.96" width="4.00" height="3.8" fill="#20f0f5" stroke="#000" stroke-opacity="0.5" stroke-width="0.45"/>
<rect x="223.85" y="165.96" width="4.30" height="3.8" fill="#84f522" stroke="#000" stroke-opacity="0.5" stroke-width="0.45"/>
<rect x="228.45" y="165.96" width="3.90" height="3.8" fill="#ffb514" stroke="#000" stroke-opacity="0.5" stroke-width="0.45"/>
<rect x="232.65" y="165.96" width="7.20" height="3.8" fill="#ff1010" stroke="#000" stroke-opacity="0.5" stroke-width="0.45"/>
<rect x="245.65" y="165.96" width="4.70" height="3.8" fill="#7d14f0" stroke="#000" stroke-opacity="0.5" stroke-width="0.45"/>
<line x1="146.2" y1="178.52" x2="251.7" y2="178.52" stroke="#8c8c8c" stroke-width="0.6"/>
<rect x="175.95" y="174.52" width="3.20" height="3.8" fill="#0a32e0" stroke="#000" stroke-opacity="0.5" stroke-width="0.45"/>
<rect x="187.15" y="174.52" width="2.40" height="3.8" fill="#ff10b0" stroke="#000" stroke-opacity="0.5" stroke-width="0.45"/>
<rect x="202.65" y="174.52" width="4.20" height="3.8" fill="#20ee4a" stroke="#000" stroke-opacity="0.5" stroke-width="0.45"/>
<rect x="209.65" y="174.52" width="4.00" height="3.8" fill="#20f0f5" stroke="#000" stroke-opacity="0.5" stroke-width="0.45"/>
<rect x="216.45" y="174.52" width="4.20" height="3.8" fill="#84f522" stroke="#000" stroke-opacity="0.5" stroke-width="0.45"/>
<rect x="220.95" y="174.52" width="3.90" height="3.8" fill="#ffb514" stroke="#000" stroke-opacity="0.5" stroke-width="0.45"/>
<rect x="225.15" y="174.52" width="7.20" height="3.8" fill="#ff1010" stroke="#000" stroke-opacity="0.5" stroke-width="0.45"/>
<rect x="238.45" y="174.52" width="4.40" height="3.8" fill="#7d14f0" stroke="#000" stroke-opacity="0.5" stroke-width="0.45"/>
<line x1="146.2" y1="187.09" x2="284.2" y2="187.09" stroke="#8c8c8c" stroke-width="0.6"/>
<rect x="183.45" y="182.89" width="3.90" height="4.0" fill="#0a32e0" stroke="#000" stroke-opacity="0.5" stroke-width="0.45"/>
<rect x="196.35" y="182.89" width="2.30" height="4.0" fill="#ff10b0" stroke="#000" stroke-opacity="0.5" stroke-width="0.45"/>
<rect x="212.15" y="182.89" width="4.20" height="4.0" fill="#e4f520" stroke="#000" stroke-opacity="0.5" stroke-width="0.45"/>
<rect x="218.45" y="182.89" width="3.90" height="4.0" fill="#ff6a10" stroke="#000" stroke-opacity="0.5" stroke-width="0.45"/>
<rect x="222.65" y="182.89" width="5.50" height="4.0" fill="#20ee4a" stroke="#000" stroke-opacity="0.5" stroke-width="0.45"/>
<rect x="231.35" y="182.89" width="5.20" height="4.0" fill="#20f0f5" stroke="#000" stroke-opacity="0.5" stroke-width="0.45"/>
<rect x="239.35" y="182.89" width="5.50" height="4.0" fill="#84f522" stroke="#000" stroke-opacity="0.5" stroke-width="0.45"/>
<rect x="250.45" y="182.89" width="8.90" height="4.0" fill="#ff1010" stroke="#000" stroke-opacity="0.5" stroke-width="0.45"/>
<rect x="266.85" y="182.89" width="5.80" height="4.0" fill="#7d14f0" stroke="#000" stroke-opacity="0.5" stroke-width="0.45"/>
<line x1="146.2" y1="195.65" x2="284.2" y2="195.65" stroke="#8c8c8c" stroke-width="0.6"/>
<rect x="183.45" y="191.45" width="3.90" height="4.0" fill="#0a32e0" stroke="#000" stroke-opacity="0.5" stroke-width="0.45"/>
<rect x="196.35" y="191.45" width="2.30" height="4.0" fill="#ff10b0" stroke="#000" stroke-opacity="0.5" stroke-width="0.45"/>
<rect x="212.15" y="191.45" width="4.20" height="4.0" fill="#e4f520" stroke="#000" stroke-opacity="0.5" stroke-width="0.45"/>
<rect x="218.45" y="191.45" width="3.90" height="4.0" fill="#ff6a10" stroke="#000" stroke-opacity="0.5" stroke-width="0.45"/>
<rect x="222.65" y="191.45" width="5.50" height="4.0" fill="#20ee4a" stroke="#000" stroke-opacity="0.5" stroke-width="0.45"/>
<rect x="231.35" y="191.45" width="5.20" height="4.0" fill="#20f0f5" stroke="#000" stroke-opacity="0.5" stroke-width="0.45"/>
<rect x="239.35" y="191.45" width="5.50" height="4.0" fill="#84f522" stroke="#000" stroke-opacity="0.5" stroke-width="0.45"/>
<rect x="250.45" y="191.45" width="8.90" height="4.0" fill="#ff1010" stroke="#000" stroke-opacity="0.5" stroke-width="0.45"/>
<rect x="266.85" y="191.45" width="5.80" height="4.0" fill="#7d14f0" stroke="#000" stroke-opacity="0.5" stroke-width="0.45"/>
<line x1="146.2" y1="204.22" x2="275.0" y2="204.22" stroke="#8c8c8c" stroke-width="0.6"/>
<rect x="211.45" y="200.02" width="3.40" height="4.0" fill="#ff6a10" stroke="#000" stroke-opacity="0.5" stroke-width="0.45"/>
<rect x="215.15" y="200.02" width="5.50" height="4.0" fill="#20ee4a" stroke="#000" stroke-opacity="0.5" stroke-width="0.45"/>
<rect x="232.35" y="200.02" width="5.30" height="4.0" fill="#84f522" stroke="#000" stroke-opacity="0.5" stroke-width="0.45"/>
<rect x="242.65" y="200.02" width="8.90" height="4.0" fill="#ff1010" stroke="#000" stroke-opacity="0.5" stroke-width="0.45"/>
<rect x="259.65" y="200.02" width="5.50" height="4.0" fill="#7d14f0" stroke="#000" stroke-opacity="0.5" stroke-width="0.45"/>
<line x1="146.2" y1="212.78" x2="275.0" y2="212.78" stroke="#8c8c8c" stroke-width="0.6"/>
<rect x="211.45" y="208.58" width="3.40" height="4.0" fill="#ff6a10" stroke="#000" stroke-opacity="0.5" stroke-width="0.45"/>
<rect x="215.15" y="208.58" width="5.50" height="4.0" fill="#20ee4a" stroke="#000" stroke-opacity="0.5" stroke-width="0.45"/>
<rect x="232.35" y="208.58" width="5.30" height="4.0" fill="#84f522" stroke="#000" stroke-opacity="0.5" stroke-width="0.45"/>
<rect x="242.65" y="208.58" width="8.90" height="4.0" fill="#ff1010" stroke="#000" stroke-opacity="0.5" stroke-width="0.45"/>
<rect x="259.65" y="208.58" width="5.50" height="4.0" fill="#7d14f0" stroke="#000" stroke-opacity="0.5" stroke-width="0.45"/>
<line x1="146.2" y1="221.38" x2="275.0" y2="221.38" stroke="#8c8c8c" stroke-width="0.6"/>
<rect x="211.45" y="217.18" width="3.40" height="4.0" fill="#ff6a10" stroke="#000" stroke-opacity="0.5" stroke-width="0.45"/>
<rect x="215.65" y="217.18" width="5.50" height="4.0" fill="#20ee4a" stroke="#000" stroke-opacity="0.5" stroke-width="0.45"/>
<rect x="232.65" y="217.18" width="5.20" height="4.0" fill="#84f522" stroke="#000" stroke-opacity="0.5" stroke-width="0.45"/>
<rect x="243.15" y="217.18" width="8.90" height="4.0" fill="#ff1010" stroke="#000" stroke-opacity="0.5" stroke-width="0.45"/>
<rect x="260.15" y="217.18" width="5.50" height="4.0" fill="#7d14f0" stroke="#000" stroke-opacity="0.5" stroke-width="0.45"/>
<line x1="146.2" y1="229.98" x2="266.3" y2="229.98" stroke="#8c8c8c" stroke-width="0.6"/>
<rect x="201.45" y="225.78" width="3.70" height="4.0" fill="#ff6a10" stroke="#000" stroke-opacity="0.5" stroke-width="0.45"/>
<rect x="205.65" y="225.78" width="5.40" height="4.0" fill="#20ee4a" stroke="#000" stroke-opacity="0.5" stroke-width="0.45"/>
<rect x="222.35" y="225.78" width="5.50" height="4.0" fill="#84f522" stroke="#000" stroke-opacity="0.5" stroke-width="0.45"/>
<rect x="232.95" y="225.78" width="8.90" height="4.0" fill="#ff1010" stroke="#000" stroke-opacity="0.5" stroke-width="0.45"/>
<rect x="249.85" y="225.78" width="5.50" height="4.0" fill="#7d14f0" stroke="#000" stroke-opacity="0.5" stroke-width="0.45"/>
<line x1="146.2" y1="238.59" x2="273.0" y2="238.59" stroke="#8c8c8c" stroke-width="0.6"/>
<rect x="207.65" y="234.39" width="3.90" height="4.0" fill="#ff6a10" stroke="#000" stroke-opacity="0.5" stroke-width="0.45"/>
<rect x="211.95" y="234.39" width="5.40" height="4.0" fill="#20ee4a" stroke="#000" stroke-opacity="0.5" stroke-width="0.45"/>
<rect x="229.35" y="234.39" width="5.20" height="4.0" fill="#84f522" stroke="#000" stroke-opacity="0.5" stroke-width="0.45"/>
<rect x="239.65" y="234.39" width="8.90" height="4.0" fill="#ff1010" stroke="#000" stroke-opacity="0.5" stroke-width="0.45"/>
<rect x="256.45" y="234.39" width="5.60" height="4.0" fill="#7d14f0" stroke="#000" stroke-opacity="0.5" stroke-width="0.45"/>
<line x1="146.2" y1="247.19" x2="267.8" y2="247.19" stroke="#8c8c8c" stroke-width="0.6"/>
<rect x="203.15" y="242.99" width="3.70" height="4.0" fill="#ff6a10" stroke="#000" stroke-opacity="0.5" stroke-width="0.45"/>
<rect x="207.35" y="242.99" width="5.30" height="4.0" fill="#20ee4a" stroke="#000" stroke-opacity="0.5" stroke-width="0.45"/>
<rect x="224.65" y="242.99" width="5.20" height="4.0" fill="#84f522" stroke="#000" stroke-opacity="0.5" stroke-width="0.45"/>
<rect x="234.85" y="242.99" width="8.80" height="4.0" fill="#ff1010" stroke="#000" stroke-opacity="0.5" stroke-width="0.45"/>
<rect x="251.85" y="242.99" width="5.50" height="4.0" fill="#7d14f0" stroke="#000" stroke-opacity="0.5" stroke-width="0.45"/>
<line x1="146.2" y1="255.79" x2="293.6" y2="255.79" stroke="#8c8c8c" stroke-width="0.6"/>
<rect x="208.15" y="251.59" width="3.70" height="4.0" fill="#ff6a10" stroke="#000" stroke-opacity="0.5" stroke-width="0.45"/>
<rect x="212.35" y="251.59" width="5.30" height="4.0" fill="#20ee4a" stroke="#000" stroke-opacity="0.5" stroke-width="0.45"/>
<rect x="220.45" y="251.59" width="5.70" height="4.0" fill="#20f0f5" stroke="#000" stroke-opacity="0.5" stroke-width="0.45"/>
<rect x="228.45" y="251.59" width="5.90" height="4.0" fill="#84f522" stroke="#000" stroke-opacity="0.5" stroke-width="0.45"/>
<rect x="234.65" y="251.59" width="4.70" height="4.0" fill="#ffb514" stroke="#000" stroke-opacity="0.5" stroke-width="0.45"/>
<rect x="239.65" y="251.59" width="8.90" height="4.0" fill="#ff1010" stroke="#000" stroke-opacity="0.5" stroke-width="0.45"/>
<line x1="146.2" y1="264.39" x2="264.2" y2="264.39" stroke="#8c8c8c" stroke-width="0.6"/>
<rect x="208.15" y="260.19" width="3.70" height="4.0" fill="#ff6a10" stroke="#000" stroke-opacity="0.5" stroke-width="0.45"/>
<rect x="212.35" y="260.19" width="5.30" height="4.0" fill="#20ee4a" stroke="#000" stroke-opacity="0.5" stroke-width="0.45"/>
<rect x="220.45" y="260.19" width="5.70" height="4.0" fill="#20f0f5" stroke="#000" stroke-opacity="0.5" stroke-width="0.45"/>
<rect x="228.45" y="260.19" width="5.90" height="4.0" fill="#84f522" stroke="#000" stroke-opacity="0.5" stroke-width="0.45"/>
<rect x="234.65" y="260.19" width="4.70" height="4.0" fill="#ffb514" stroke="#000" stroke-opacity="0.5" stroke-width="0.45"/>
<rect x="239.65" y="260.19" width="8.90" height="4.0" fill="#ff1010" stroke="#000" stroke-opacity="0.5" stroke-width="0.45"/>
<rect x="256.45" y="260.19" width="5.60" height="4.0" fill="#7d14f0" stroke="#000" stroke-opacity="0.5" stroke-width="0.45"/>
<line x1="146.2" y1="272.99" x2="280.8" y2="272.99" stroke="#8c8c8c" stroke-width="0.6"/>
<rect x="183.45" y="268.79" width="3.90" height="4.0" fill="#0a32e0" stroke="#000" stroke-opacity="0.5" stroke-width="0.45"/>
<rect x="196.45" y="268.79" width="2.90" height="4.0" fill="#ff10b0" stroke="#000" stroke-opacity="0.5" stroke-width="0.45"/>
<rect x="211.85" y="268.79" width="5.00" height="4.0" fill="#e4f520" stroke="#000" stroke-opacity="0.5" stroke-width="0.45"/>
<rect x="218.15" y="268.79" width="3.70" height="4.0" fill="#ff6a10" stroke="#000" stroke-opacity="0.5" stroke-width="0.45"/>
<rect x="222.15" y="268.79" width="5.20" height="4.0" fill="#20ee4a" stroke="#000" stroke-opacity="0.5" stroke-width="0.45"/>
<rect x="230.45" y="268.79" width="5.60" height="4.0" fill="#20f0f5" stroke="#000" stroke-opacity="0.5" stroke-width="0.45"/>
<rect x="238.85" y="268.79" width="5.70" height="4.0" fill="#84f522" stroke="#000" stroke-opacity="0.5" stroke-width="0.45"/>
<rect x="244.85" y="268.79" width="4.70" height="4.0" fill="#ffb514" stroke="#000" stroke-opacity="0.5" stroke-width="0.45"/>
<rect x="249.85" y="268.79" width="9.20" height="4.0" fill="#ff1010" stroke="#000" stroke-opacity="0.5" stroke-width="0.45"/>
<rect x="265.45" y="268.79" width="5.70" height="4.0" fill="#7d14f0" stroke="#000" stroke-opacity="0.5" stroke-width="0.45"/>
<line x1="146.2" y1="281.60" x2="281.3" y2="281.60" stroke="#8c8c8c" stroke-width="0.6"/>
<rect x="183.45" y="277.40" width="3.90" height="4.0" fill="#0a32e0" stroke="#000" stroke-opacity="0.5" stroke-width="0.45"/>
<rect x="196.45" y="277.40" width="2.90" height="4.0" fill="#ff10b0" stroke="#000" stroke-opacity="0.5" stroke-width="0.45"/>
<rect x="211.85" y="277.40" width="5.00" height="4.0" fill="#e4f520" stroke="#000" stroke-opacity="0.5" stroke-width="0.45"/>
<rect x="218.15" y="277.40" width="3.70" height="4.0" fill="#ff6a10" stroke="#000" stroke-opacity="0.5" stroke-width="0.45"/>
<rect x="222.15" y="277.40" width="5.20" height="4.0" fill="#20ee4a" stroke="#000" stroke-opacity="0.5" stroke-width="0.45"/>
<rect x="230.45" y="277.40" width="5.60" height="4.0" fill="#20f0f5" stroke="#000" stroke-opacity="0.5" stroke-width="0.45"/>
<rect x="238.85" y="277.40" width="5.70" height="4.0" fill="#84f522" stroke="#000" stroke-opacity="0.5" stroke-width="0.45"/>
<rect x="244.85" y="277.40" width="4.70" height="4.0" fill="#ffb514" stroke="#000" stroke-opacity="0.5" stroke-width="0.45"/>
<rect x="249.85" y="277.40" width="9.20" height="4.0" fill="#ff1010" stroke="#000" stroke-opacity="0.5" stroke-width="0.45"/>
<rect x="265.45" y="277.40" width="5.70" height="4.0" fill="#7d14f0" stroke="#000" stroke-opacity="0.5" stroke-width="0.45"/>
<line x1="146.2" y1="290.20" x2="282.5" y2="290.20" stroke="#8c8c8c" stroke-width="0.6"/>
<rect x="185.45" y="286.00" width="3.90" height="4.0" fill="#0a32e0" stroke="#000" stroke-opacity="0.5" stroke-width="0.45"/>
<rect x="199.35" y="286.00" width="3.00" height="4.0" fill="#ff10b0" stroke="#000" stroke-opacity="0.5" stroke-width="0.45"/>
<rect x="214.85" y="286.00" width="4.70" height="4.0" fill="#e4f520" stroke="#000" stroke-opacity="0.5" stroke-width="0.45"/>
<rect x="222.15" y="286.00" width="3.50" height="4.0" fill="#ff6a10" stroke="#000" stroke-opacity="0.5" stroke-width="0.45"/>
<rect x="225.95" y="286.00" width="5.60" height="4.0" fill="#20ee4a" stroke="#000" stroke-opacity="0.5" stroke-width="0.45"/>
<rect x="234.65" y="286.00" width="5.20" height="4.0" fill="#20f0f5" stroke="#000" stroke-opacity="0.5" stroke-width="0.45"/>
<rect x="242.65" y="286.00" width="5.90" height="4.0" fill="#84f522" stroke="#000" stroke-opacity="0.5" stroke-width="0.45"/>
<rect x="248.85" y="286.00" width="4.70" height="4.0" fill="#ffb514" stroke="#000" stroke-opacity="0.5" stroke-width="0.45"/>
<rect x="253.85" y="286.00" width="8.80" height="4.0" fill="#ff1010" stroke="#000" stroke-opacity="0.5" stroke-width="0.45"/>
<rect x="270.45" y="286.00" width="5.70" height="4.0" fill="#7d14f0" stroke="#000" stroke-opacity="0.5" stroke-width="0.45"/>
<line x1="146.2" y1="298.80" x2="282.0" y2="298.80" stroke="#8c8c8c" stroke-width="0.6"/>
<rect x="184.85" y="294.60" width="3.80" height="4.0" fill="#0a32e0" stroke="#000" stroke-opacity="0.5" stroke-width="0.45"/>
<rect x="198.45" y="294.60" width="3.10" height="4.0" fill="#ff10b0" stroke="#000" stroke-opacity="0.5" stroke-width="0.45"/>
<rect x="214.35" y="294.60" width="5.00" height="4.0" fill="#e4f520" stroke="#000" stroke-opacity="0.5" stroke-width="0.45"/>
<rect x="221.45" y="294.60" width="3.70" height="4.0" fill="#ff6a10" stroke="#000" stroke-opacity="0.5" stroke-width="0.45"/>
<rect x="225.45" y="294.60" width="5.20" height="4.0" fill="#20ee4a" stroke="#000" stroke-opacity="0.5" stroke-width="0.45"/>
<rect x="233.85" y="294.60" width="5.50" height="4.0" fill="#20f0f5" stroke="#000" stroke-opacity="0.5" stroke-width="0.45"/>
<rect x="242.15" y="294.60" width="5.70" height="4.0" fill="#84f522" stroke="#000" stroke-opacity="0.5" stroke-width="0.45"/>
<rect x="248.15" y="294.60" width="4.70" height="4.0" fill="#ffb514" stroke="#000" stroke-opacity="0.5" stroke-width="0.45"/>
<rect x="253.15" y="294.60" width="8.90" height="4.0" fill="#ff1010" stroke="#000" stroke-opacity="0.5" stroke-width="0.45"/>
<rect x="269.85" y="294.60" width="5.80" height="4.0" fill="#7d14f0" stroke="#000" stroke-opacity="0.5" stroke-width="0.45"/>
<line x1="146.2" y1="307.40" x2="254.2" y2="307.40" stroke="#8c8c8c" stroke-width="0.6"/>
<rect x="177.65" y="303.20" width="4.70" height="4.0" fill="#e4f520" stroke="#000" stroke-opacity="0.5" stroke-width="0.45"/>
<rect x="190.95" y="303.20" width="3.60" height="4.0" fill="#ff6a10" stroke="#000" stroke-opacity="0.5" stroke-width="0.45"/>
<rect x="194.85" y="303.20" width="5.30" height="4.0" fill="#20ee4a" stroke="#000" stroke-opacity="0.5" stroke-width="0.45"/>
<rect x="203.45" y="303.20" width="5.20" height="4.0" fill="#20f0f5" stroke="#000" stroke-opacity="0.5" stroke-width="0.45"/>
<rect x="211.35" y="303.20" width="5.70" height="4.0" fill="#84f522" stroke="#000" stroke-opacity="0.5" stroke-width="0.45"/>
<rect x="222.35" y="303.20" width="8.70" height="4.0" fill="#ff1010" stroke="#000" stroke-opacity="0.5" stroke-width="0.45"/>
<rect x="239.65" y="303.20" width="5.50" height="4.0" fill="#7d14f0" stroke="#000" stroke-opacity="0.5" stroke-width="0.45"/>
<line x1="146.2" y1="316.00" x2="291.8" y2="316.00" stroke="#8c8c8c" stroke-width="0.6"/>
<rect x="186.45" y="311.81" width="3.70" height="4.0" fill="#0a32e0" stroke="#000" stroke-opacity="0.5" stroke-width="0.45"/>
<rect x="215.45" y="311.81" width="4.90" height="4.0" fill="#e4f520" stroke="#000" stroke-opacity="0.5" stroke-width="0.45"/>
<rect x="228.45" y="311.81" width="3.90" height="4.0" fill="#ff6a10" stroke="#000" stroke-opacity="0.5" stroke-width="0.45"/>
<rect x="232.65" y="311.81" width="5.50" height="4.0" fill="#20ee4a" stroke="#000" stroke-opacity="0.5" stroke-width="0.45"/>
<rect x="240.95" y="311.81" width="5.60" height="4.0" fill="#20f0f5" stroke="#000" stroke-opacity="0.5" stroke-width="0.45"/>
<rect x="248.95" y="311.81" width="5.60" height="4.0" fill="#84f522" stroke="#000" stroke-opacity="0.5" stroke-width="0.45"/>
<rect x="259.65" y="311.81" width="8.90" height="4.0" fill="#ff1010" stroke="#000" stroke-opacity="0.5" stroke-width="0.45"/>
<rect x="276.85" y="311.81" width="5.80" height="4.0" fill="#7d14f0" stroke="#000" stroke-opacity="0.5" stroke-width="0.45"/>
<line x1="146.2" y1="324.61" x2="280.8" y2="324.61" stroke="#8c8c8c" stroke-width="0.6"/>
<rect x="174.65" y="320.41" width="3.90" height="4.0" fill="#0a32e0" stroke="#000" stroke-opacity="0.5" stroke-width="0.45"/>
<rect x="187.35" y="320.41" width="2.80" height="4.0" fill="#ff10b0" stroke="#000" stroke-opacity="0.5" stroke-width="0.45"/>
<rect x="203.45" y="320.41" width="4.70" height="4.0" fill="#e4f520" stroke="#000" stroke-opacity="0.5" stroke-width="0.45"/>
<rect x="216.85" y="320.41" width="3.80" height="4.0" fill="#ff6a10" stroke="#000" stroke-opacity="0.5" stroke-width="0.45"/>
<rect x="220.95" y="320.41" width="5.20" height="4.0" fill="#20ee4a" stroke="#000" stroke-opacity="0.5" stroke-width="0.45"/>
<rect x="229.35" y="320.41" width="5.50" height="4.0" fill="#20f0f5" stroke="#000" stroke-opacity="0.5" stroke-width="0.45"/>
<rect x="237.35" y="320.41" width="5.50" height="4.0" fill="#84f522" stroke="#000" stroke-opacity="0.5" stroke-width="0.45"/>
<rect x="248.15" y="320.41" width="8.90" height="4.0" fill="#ff1010" stroke="#000" stroke-opacity="0.5" stroke-width="0.45"/>
<rect x="265.15" y="320.41" width="5.90" height="4.0" fill="#7d14f0" stroke="#000" stroke-opacity="0.5" stroke-width="0.45"/>
<line x1="146.2" y1="333.21" x2="283.3" y2="333.21" stroke="#8c8c8c" stroke-width="0.6"/>
<rect x="179.85" y="329.01" width="3.70" height="4.0" fill="#0a32e0" stroke="#000" stroke-opacity="0.5" stroke-width="0.45"/>
<rect x="192.95" y="329.01" width="2.70" height="4.0" fill="#ff10b0" stroke="#000" stroke-opacity="0.5" stroke-width="0.45"/>
<rect x="212.65" y="329.01" width="4.20" height="4.0" fill="#e4f520" stroke="#000" stroke-opacity="0.5" stroke-width="0.45"/>
<rect x="218.15" y="329.01" width="3.70" height="4.0" fill="#ff6a10" stroke="#000" stroke-opacity="0.5" stroke-width="0.45"/>
<rect x="222.65" y="329.01" width="5.20" height="4.0" fill="#20ee4a" stroke="#000" stroke-opacity="0.5" stroke-width="0.45"/>
<rect x="230.95" y="329.01" width="5.20" height="4.0" fill="#20f0f5" stroke="#000" stroke-opacity="0.5" stroke-width="0.45"/>
<rect x="239.35" y="329.01" width="5.50" height="4.0" fill="#84f522" stroke="#000" stroke-opacity="0.5" stroke-width="0.45"/>
<rect x="245.15" y="329.01" width="4.70" height="4.0" fill="#ffb514" stroke="#000" stroke-opacity="0.5" stroke-width="0.45"/>
<rect x="250.15" y="329.01" width="8.90" height="4.0" fill="#ff1010" stroke="#000" stroke-opacity="0.5" stroke-width="0.45"/>
<rect x="267.15" y="329.01" width="5.70" height="4.0" fill="#7d14f0" stroke="#000" stroke-opacity="0.5" stroke-width="0.45"/>
<line x1="146.2" y1="341.81" x2="282.0" y2="341.81" stroke="#8c8c8c" stroke-width="0.6"/>
<rect x="178.15" y="337.61" width="3.70" height="4.0" fill="#0a32e0" stroke="#000" stroke-opacity="0.5" stroke-width="0.45"/>
<rect x="191.15" y="337.61" width="2.90" height="4.0" fill="#ff10b0" stroke="#000" stroke-opacity="0.5" stroke-width="0.45"/>
<rect x="210.95" y="337.61" width="4.70" height="4.0" fill="#e4f520" stroke="#000" stroke-opacity="0.5" stroke-width="0.45"/>
<rect x="216.85" y="337.61" width="3.50" height="4.0" fill="#ff6a10" stroke="#000" stroke-opacity="0.5" stroke-width="0.45"/>
<rect x="220.95" y="337.61" width="5.20" height="4.0" fill="#20ee4a" stroke="#000" stroke-opacity="0.5" stroke-width="0.45"/>
<rect x="229.35" y="337.61" width="5.50" height="4.0" fill="#20f0f5" stroke="#000" stroke-opacity="0.5" stroke-width="0.45"/>
<rect x="237.65" y="337.61" width="5.50" height="4.0" fill="#84f522" stroke="#000" stroke-opacity="0.5" stroke-width="0.45"/>
<rect x="243.45" y="337.61" width="4.70" height="4.0" fill="#ffb514" stroke="#000" stroke-opacity="0.5" stroke-width="0.45"/>
<rect x="248.45" y="337.61" width="8.90" height="4.0" fill="#ff1010" stroke="#000" stroke-opacity="0.5" stroke-width="0.45"/>
<rect x="265.15" y="337.61" width="5.90" height="4.0" fill="#7d14f0" stroke="#000" stroke-opacity="0.5" stroke-width="0.45"/>
<line x1="146.2" y1="350.41" x2="276.7" y2="350.41" stroke="#8c8c8c" stroke-width="0.6"/>
<rect x="181.45" y="346.21" width="3.70" height="4.0" fill="#0a32e0" stroke="#000" stroke-opacity="0.5" stroke-width="0.45"/>
<rect x="194.65" y="346.21" width="3.00" height="4.0" fill="#ff10b0" stroke="#000" stroke-opacity="0.5" stroke-width="0.45"/>
<rect x="211.85" y="346.21" width="4.70" height="4.0" fill="#e4f520" stroke="#000" stroke-opacity="0.5" stroke-width="0.45"/>
<rect x="217.95" y="346.21" width="3.20" height="4.0" fill="#ff6a10" stroke="#000" stroke-opacity="0.5" stroke-width="0.45"/>
<rect x="221.85" y="346.21" width="5.20" height="4.0" fill="#20ee4a" stroke="#000" stroke-opacity="0.5" stroke-width="0.45"/>
<rect x="230.15" y="346.21" width="5.50" height="4.0" fill="#20f0f5" stroke="#000" stroke-opacity="0.5" stroke-width="0.45"/>
<rect x="238.45" y="346.21" width="5.60" height="4.0" fill="#84f522" stroke="#000" stroke-opacity="0.5" stroke-width="0.45"/>
<rect x="244.35" y="346.21" width="4.70" height="4.0" fill="#ffb514" stroke="#000" stroke-opacity="0.5" stroke-width="0.45"/>
<rect x="249.35" y="346.21" width="8.80" height="4.0" fill="#ff1010" stroke="#000" stroke-opacity="0.5" stroke-width="0.45"/>
<rect x="266.35" y="346.21" width="5.50" height="4.0" fill="#7d14f0" stroke="#000" stroke-opacity="0.5" stroke-width="0.45"/>
<line x1="146.2" y1="359.02" x2="288.0" y2="359.02" stroke="#8c8c8c" stroke-width="0.6"/>
<rect x="183.45" y="354.82" width="3.90" height="4.0" fill="#0a32e0" stroke="#000" stroke-opacity="0.5" stroke-width="0.45"/>
<rect x="196.45" y="354.82" width="2.90" height="4.0" fill="#ff10b0" stroke="#000" stroke-opacity="0.5" stroke-width="0.45"/>
<rect x="216.85" y="354.82" width="4.70" height="4.0" fill="#e4f520" stroke="#000" stroke-opacity="0.5" stroke-width="0.45"/>
<rect x="223.15" y="354.82" width="3.40" height="4.0" fill="#ff6a10" stroke="#000" stroke-opacity="0.5" stroke-width="0.45"/>
<rect x="226.85" y="354.82" width="5.20" height="4.0" fill="#20ee4a" stroke="#000" stroke-opacity="0.5" stroke-width="0.45"/>
<rect x="235.15" y="354.82" width="5.50" height="4.0" fill="#20f0f5" stroke="#000" stroke-opacity="0.5" stroke-width="0.45"/>
<rect x="243.45" y="354.82" width="5.60" height="4.0" fill="#84f522" stroke="#000" stroke-opacity="0.5" stroke-width="0.45"/>
<rect x="249.35" y="354.82" width="4.70" height="4.0" fill="#ffb514" stroke="#000" stroke-opacity="0.5" stroke-width="0.45"/>
<rect x="254.35" y="354.82" width="8.80" height="4.0" fill="#ff1010" stroke="#000" stroke-opacity="0.5" stroke-width="0.45"/>
<rect x="271.35" y="354.82" width="5.50" height="4.0" fill="#7d14f0" stroke="#000" stroke-opacity="0.5" stroke-width="0.45"/>
<line x1="146.2" y1="367.62" x2="288.0" y2="367.62" stroke="#8c8c8c" stroke-width="0.6"/>
<rect x="183.45" y="363.42" width="3.90" height="4.0" fill="#0a32e0" stroke="#000" stroke-opacity="0.5" stroke-width="0.45"/>
<rect x="196.45" y="363.42" width="2.90" height="4.0" fill="#ff10b0" stroke="#000" stroke-opacity="0.5" stroke-width="0.45"/>
<rect x="216.85" y="363.42" width="4.70" height="4.0" fill="#e4f520" stroke="#000" stroke-opacity="0.5" stroke-width="0.45"/>
<rect x="223.15" y="363.42" width="3.40" height="4.0" fill="#ff6a10" stroke="#000" stroke-opacity="0.5" stroke-width="0.45"/>
<rect x="226.85" y="363.42" width="5.20" height="4.0" fill="#20ee4a" stroke="#000" stroke-opacity="0.5" stroke-width="0.45"/>
<rect x="235.15" y="363.42" width="5.50" height="4.0" fill="#20f0f5" stroke="#000" stroke-opacity="0.5" stroke-width="0.45"/>
<rect x="243.45" y="363.42" width="5.60" height="4.0" fill="#84f522" stroke="#000" stroke-opacity="0.5" stroke-width="0.45"/>
<rect x="249.35" y="363.42" width="4.70" height="4.0" fill="#ffb514" stroke="#000" stroke-opacity="0.5" stroke-width="0.45"/>
<rect x="254.35" y="363.42" width="8.80" height="4.0" fill="#ff1010" stroke="#000" stroke-opacity="0.5" stroke-width="0.45"/>
<rect x="271.35" y="363.42" width="5.50" height="4.0" fill="#7d14f0" stroke="#000" stroke-opacity="0.5" stroke-width="0.45"/>
<line x1="146.2" y1="376.22" x2="288.0" y2="376.22" stroke="#8c8c8c" stroke-width="0.6"/>
<rect x="183.45" y="372.02" width="3.90" height="4.0" fill="#0a32e0" stroke="#000" stroke-opacity="0.5" stroke-width="0.45"/>
<rect x="196.45" y="372.02" width="2.90" height="4.0" fill="#ff10b0" stroke="#000" stroke-opacity="0.5" stroke-width="0.45"/>
<rect x="216.85" y="372.02" width="4.70" height="4.0" fill="#e4f520" stroke="#000" stroke-opacity="0.5" stroke-width="0.45"/>
<rect x="223.15" y="372.02" width="3.40" height="4.0" fill="#ff6a10" stroke="#000" stroke-opacity="0.5" stroke-width="0.45"/>
<rect x="226.85" y="372.02" width="5.20" height="4.0" fill="#20ee4a" stroke="#000" stroke-opacity="0.5" stroke-width="0.45"/>
<rect x="235.15" y="372.02" width="5.50" height="4.0" fill="#20f0f5" stroke="#000" stroke-opacity="0.5" stroke-width="0.45"/>
<rect x="243.45" y="372.02" width="5.60" height="4.0" fill="#84f522" stroke="#000" stroke-opacity="0.5" stroke-width="0.45"/>
<rect x="249.35" y="372.02" width="4.70" height="4.0" fill="#ffb514" stroke="#000" stroke-opacity="0.5" stroke-width="0.45"/>
<rect x="254.35" y="372.02" width="8.80" height="4.0" fill="#ff1010" stroke="#000" stroke-opacity="0.5" stroke-width="0.45"/>
<rect x="271.35" y="372.02" width="5.50" height="4.0" fill="#7d14f0" stroke="#000" stroke-opacity="0.5" stroke-width="0.45"/>
<line x1="146.2" y1="384.82" x2="275.8" y2="384.82" stroke="#8c8c8c" stroke-width="0.6"/>
<rect x="183.45" y="380.62" width="3.90" height="4.0" fill="#0a32e0" stroke="#000" stroke-opacity="0.5" stroke-width="0.45"/>
<rect x="196.45" y="380.62" width="2.90" height="4.0" fill="#ff10b0" stroke="#000" stroke-opacity="0.5" stroke-width="0.45"/>
<rect x="204.35" y="380.62" width="4.70" height="4.0" fill="#e4f520" stroke="#000" stroke-opacity="0.5" stroke-width="0.45"/>
<rect x="210.15" y="380.62" width="3.40" height="4.0" fill="#ff6a10" stroke="#000" stroke-opacity="0.5" stroke-width="0.45"/>
<rect x="214.35" y="380.62" width="5.20" height="4.0" fill="#20ee4a" stroke="#000" stroke-opacity="0.5" stroke-width="0.45"/>
<rect x="222.65" y="380.62" width="5.20" height="4.0" fill="#20f0f5" stroke="#000" stroke-opacity="0.5" stroke-width="0.45"/>
<rect x="230.95" y="380.62" width="5.60" height="4.0" fill="#84f522" stroke="#000" stroke-opacity="0.5" stroke-width="0.45"/>
<rect x="236.85" y="380.62" width="5.00" height="4.0" fill="#ffb514" stroke="#000" stroke-opacity="0.5" stroke-width="0.45"/>
<rect x="242.15" y="380.62" width="8.50" height="4.0" fill="#ff1010" stroke="#000" stroke-opacity="0.5" stroke-width="0.45"/>
<rect x="258.95" y="380.62" width="5.60" height="4.0" fill="#7d14f0" stroke="#000" stroke-opacity="0.5" stroke-width="0.45"/>
<line x1="146.2" y1="393.42" x2="291.8" y2="393.42" stroke="#8c8c8c" stroke-width="0.6"/>
<rect x="186.35" y="389.22" width="3.50" height="4.0" fill="#0a32e0" stroke="#000" stroke-opacity="0.5" stroke-width="0.45"/>
<rect x="200.15" y="389.22" width="2.70" height="4.0" fill="#ff10b0" stroke="#000" stroke-opacity="0.5" stroke-width="0.45"/>
<rect x="220.65" y="389.22" width="3.90" height="4.0" fill="#ff6a10" stroke="#000" stroke-opacity="0.5" stroke-width="0.45"/>
<rect x="224.85" y="389.22" width="5.30" height="4.0" fill="#20ee4a" stroke="#000" stroke-opacity="0.5" stroke-width="0.45"/>
<rect x="236.35" y="389.22" width="5.20" height="4.0" fill="#20f0f5" stroke="#000" stroke-opacity="0.5" stroke-width="0.45"/>
<rect x="245.65" y="389.22" width="5.40" height="4.0" fill="#84f522" stroke="#000" stroke-opacity="0.5" stroke-width="0.45"/>
<rect x="251.35" y="389.22" width="4.70" height="4.0" fill="#ffb514" stroke="#000" stroke-opacity="0.5" stroke-width="0.45"/>
<rect x="256.35" y="389.22" width="8.80" height="4.0" fill="#ff1010" stroke="#000" stroke-opacity="0.5" stroke-width="0.45"/>
<rect x="273.85" y="389.22" width="5.50" height="4.0" fill="#7d14f0" stroke="#000" stroke-opacity="0.5" stroke-width="0.45"/>
<line x1="146.2" y1="402.03" x2="287.6" y2="402.03" stroke="#8c8c8c" stroke-width="0.6"/>
<rect x="182.15" y="397.83" width="3.50" height="4.0" fill="#0a32e0" stroke="#000" stroke-opacity="0.5" stroke-width="0.45"/>
<rect x="195.95" y="397.83" width="2.70" height="4.0" fill="#ff10b0" stroke="#000" stroke-opacity="0.5" stroke-width="0.45"/>
<rect x="216.45" y="397.83" width="3.90" height="4.0" fill="#ff6a10" stroke="#000" stroke-opacity="0.5" stroke-width="0.45"/>
<rect x="220.65" y="397.83" width="5.40" height="4.0" fill="#20ee4a" stroke="#000" stroke-opacity="0.5" stroke-width="0.45"/>
<rect x="232.15" y="397.83" width="5.20" height="4.0" fill="#20f0f5" stroke="#000" stroke-opacity="0.5" stroke-width="0.45"/>
<rect x="241.45" y="397.83" width="5.40" height="4.0" fill="#84f522" stroke="#000" stroke-opacity="0.5" stroke-width="0.45"/>
<rect x="247.15" y="397.83" width="4.70" height="4.0" fill="#ffb514" stroke="#000" stroke-opacity="0.5" stroke-width="0.45"/>
<rect x="252.15" y="397.83" width="8.90" height="4.0" fill="#ff1010" stroke="#000" stroke-opacity="0.5" stroke-width="0.45"/>
<rect x="269.85" y="397.83" width="5.50" height="4.0" fill="#7d14f0" stroke="#000" stroke-opacity="0.5" stroke-width="0.45"/>
<line x1="146.2" y1="410.63" x2="288.0" y2="410.63" stroke="#8c8c8c" stroke-width="0.6"/>
<rect x="182.65" y="406.43" width="3.50" height="4.0" fill="#0a32e0" stroke="#000" stroke-opacity="0.5" stroke-width="0.45"/>
<rect x="196.35" y="406.43" width="2.70" height="4.0" fill="#ff10b0" stroke="#000" stroke-opacity="0.5" stroke-width="0.45"/>
<rect x="216.85" y="406.43" width="3.80" height="4.0" fill="#ff6a10" stroke="#000" stroke-opacity="0.5" stroke-width="0.45"/>
<rect x="220.95" y="406.43" width="5.60" height="4.0" fill="#20ee4a" stroke="#000" stroke-opacity="0.5" stroke-width="0.45"/>
<rect x="232.65" y="406.43" width="5.20" height="4.0" fill="#20f0f5" stroke="#000" stroke-opacity="0.5" stroke-width="0.45"/>
<rect x="241.85" y="406.43" width="5.50" height="4.0" fill="#84f522" stroke="#000" stroke-opacity="0.5" stroke-width="0.45"/>
<rect x="247.65" y="406.43" width="4.70" height="4.0" fill="#ffb514" stroke="#000" stroke-opacity="0.5" stroke-width="0.45"/>
<rect x="252.65" y="406.43" width="8.90" height="4.0" fill="#ff1010" stroke="#000" stroke-opacity="0.5" stroke-width="0.45"/>
<rect x="270.15" y="406.43" width="5.50" height="4.0" fill="#7d14f0" stroke="#000" stroke-opacity="0.5" stroke-width="0.45"/>
<line x1="146.2" y1="419.23" x2="291.5" y2="419.23" stroke="#8c8c8c" stroke-width="0.6"/>
<rect x="185.45" y="415.03" width="3.60" height="4.0" fill="#0a32e0" stroke="#000" stroke-opacity="0.5" stroke-width="0.45"/>
<rect x="199.35" y="415.03" width="2.50" height="4.0" fill="#ff10b0" stroke="#000" stroke-opacity="0.5" stroke-width="0.45"/>
<rect x="219.65" y="415.03" width="3.90" height="4.0" fill="#ff6a10" stroke="#000" stroke-opacity="0.5" stroke-width="0.45"/>
<rect x="223.85" y="415.03" width="5.50" height="4.0" fill="#20ee4a" stroke="#000" stroke-opacity="0.5" stroke-width="0.45"/>
<rect x="235.45" y="415.03" width="5.20" height="4.0" fill="#20f0f5" stroke="#000" stroke-opacity="0.5" stroke-width="0.45"/>
<rect x="244.65" y="415.03" width="5.50" height="4.0" fill="#84f522" stroke="#000" stroke-opacity="0.5" stroke-width="0.45"/>
<rect x="250.45" y="415.03" width="4.70" height="4.0" fill="#ffb514" stroke="#000" stroke-opacity="0.5" stroke-width="0.45"/>
<rect x="255.45" y="415.03" width="8.90" height="4.0" fill="#ff1010" stroke="#000" stroke-opacity="0.5" stroke-width="0.45"/>
<rect x="273.15" y="415.03" width="5.50" height="4.0" fill="#7d14f0" stroke="#000" stroke-opacity="0.5" stroke-width="0.45"/>
<line x1="146.2" y1="427.80" x2="288.4" y2="427.80" stroke="#8c8c8c" stroke-width="0.6"/>
<rect x="183.45" y="423.60" width="3.60" height="4.0" fill="#0a32e0" stroke="#000" stroke-opacity="0.5" stroke-width="0.45"/>
<rect x="197.35" y="423.60" width="2.50" height="4.0" fill="#ff10b0" stroke="#000" stroke-opacity="0.5" stroke-width="0.45"/>
<rect x="216.45" y="423.60" width="3.90" height="4.0" fill="#ff6a10" stroke="#000" stroke-opacity="0.5" stroke-width="0.45"/>
<rect x="220.65" y="423.60" width="5.40" height="4.0" fill="#20ee4a" stroke="#000" stroke-opacity="0.5" stroke-width="0.45"/>
<rect x="232.15" y="423.60" width="5.20" height="4.0" fill="#20f0f5" stroke="#000" stroke-opacity="0.5" stroke-width="0.45"/>
<rect x="241.45" y="423.60" width="5.40" height="4.0" fill="#84f522" stroke="#000" stroke-opacity="0.5" stroke-width="0.45"/>
<rect x="247.15" y="423.60" width="4.70" height="4.0" fill="#ffb514" stroke="#000" stroke-opacity="0.5" stroke-width="0.45"/>
<rect x="252.15" y="423.60" width="8.90" height="4.0" fill="#ff1010" stroke="#000" stroke-opacity="0.5" stroke-width="0.45"/>
<rect x="269.85" y="423.60" width="5.50" height="4.0" fill="#7d14f0" stroke="#000" stroke-opacity="0.5" stroke-width="0.45"/>
<line x1="146.2" y1="436.38" x2="288.5" y2="436.38" stroke="#8c8c8c" stroke-width="0.6"/>
<rect x="183.15" y="432.18" width="3.70" height="4.0" fill="#0a32e0" stroke="#000" stroke-opacity="0.5" stroke-width="0.45"/>
<rect x="196.85" y="432.18" width="2.70" height="4.0" fill="#ff10b0" stroke="#000" stroke-opacity="0.5" stroke-width="0.45"/>
<rect x="217.35" y="432.18" width="3.80" height="4.0" fill="#ff6a10" stroke="#000" stroke-opacity="0.5" stroke-width="0.45"/>
<rect x="221.45" y="432.18" width="5.60" height="4.0" fill="#20ee4a" stroke="#000" stroke-opacity="0.5" stroke-width="0.45"/>
<rect x="233.15" y="432.18" width="5.40" height="4.0" fill="#20f0f5" stroke="#000" stroke-opacity="0.5" stroke-width="0.45"/>
<rect x="242.65" y="432.18" width="5.50" height="4.0" fill="#84f522" stroke="#000" stroke-opacity="0.5" stroke-width="0.45"/>
<rect x="248.45" y="432.18" width="4.70" height="4.0" fill="#ffb514" stroke="#000" stroke-opacity="0.5" stroke-width="0.45"/>
<rect x="253.45" y="432.18" width="8.60" height="4.0" fill="#ff1010" stroke="#000" stroke-opacity="0.5" stroke-width="0.45"/>
<rect x="270.65" y="432.18" width="5.50" height="4.0" fill="#7d14f0" stroke="#000" stroke-opacity="0.5" stroke-width="0.45"/>
<line x1="146.2" y1="444.95" x2="286.4" y2="444.95" stroke="#8c8c8c" stroke-width="0.6"/>
<rect x="180.45" y="440.75" width="3.60" height="4.0" fill="#0a32e0" stroke="#000" stroke-opacity="0.5" stroke-width="0.45"/>
<rect x="193.95" y="440.75" width="2.90" height="4.0" fill="#ff10b0" stroke="#000" stroke-opacity="0.5" stroke-width="0.45"/>
<rect x="214.65" y="440.75" width="3.90" height="4.0" fill="#ff6a10" stroke="#000" stroke-opacity="0.5" stroke-width="0.45"/>
<rect x="218.85" y="440.75" width="5.50" height="4.0" fill="#20ee4a" stroke="#000" stroke-opacity="0.5" stroke-width="0.45"/>
<rect x="230.15" y="440.75" width="5.50" height="4.0" fill="#20f0f5" stroke="#000" stroke-opacity="0.5" stroke-width="0.45"/>
<rect x="239.35" y="440.75" width="5.50" height="4.0" fill="#84f522" stroke="#000" stroke-opacity="0.5" stroke-width="0.45"/>
<rect x="245.15" y="440.75" width="4.70" height="4.0" fill="#ffb514" stroke="#000" stroke-opacity="0.5" stroke-width="0.45"/>
<rect x="250.15" y="440.75" width="8.90" height="4.0" fill="#ff1010" stroke="#000" stroke-opacity="0.5" stroke-width="0.45"/>
<rect x="267.95" y="440.75" width="5.60" height="4.0" fill="#7d14f0" stroke="#000" stroke-opacity="0.5" stroke-width="0.45"/>
<line x1="146.2" y1="453.52" x2="291.0" y2="453.52" stroke="#8c8c8c" stroke-width="0.6"/>
<rect x="183.45" y="449.32" width="3.60" height="4.0" fill="#0a32e0" stroke="#000" stroke-opacity="0.5" stroke-width="0.45"/>
<rect x="197.35" y="449.32" width="2.80" height="4.0" fill="#ff10b0" stroke="#000" stroke-opacity="0.5" stroke-width="0.45"/>
<rect x="218.95" y="449.32" width="3.90" height="4.0" fill="#ff6a10" stroke="#000" stroke-opacity="0.5" stroke-width="0.45"/>
<rect x="223.15" y="449.32" width="5.40" height="4.0" fill="#20ee4a" stroke="#000" stroke-opacity="0.5" stroke-width="0.45"/>
<rect x="234.35" y="449.32" width="5.50" height="4.0" fill="#20f0f5" stroke="#000" stroke-opacity="0.5" stroke-width="0.45"/>
<rect x="243.45" y="449.32" width="5.60" height="4.0" fill="#84f522" stroke="#000" stroke-opacity="0.5" stroke-width="0.45"/>
<rect x="249.35" y="449.32" width="5.00" height="4.0" fill="#ffb514" stroke="#000" stroke-opacity="0.5" stroke-width="0.45"/>
<rect x="254.65" y="449.32" width="8.90" height="4.0" fill="#ff1010" stroke="#000" stroke-opacity="0.5" stroke-width="0.45"/>
<rect x="272.35" y="449.32" width="5.50" height="4.0" fill="#7d14f0" stroke="#000" stroke-opacity="0.5" stroke-width="0.45"/>
<line x1="146.2" y1="462.10" x2="292.7" y2="462.10" stroke="#8c8c8c" stroke-width="0.6"/>
<rect x="186.35" y="457.90" width="3.50" height="4.0" fill="#0a32e0" stroke="#000" stroke-opacity="0.5" stroke-width="0.45"/>
<rect x="200.45" y="457.90" width="2.70" height="4.0" fill="#ff10b0" stroke="#000" stroke-opacity="0.5" stroke-width="0.45"/>
<rect x="220.95" y="457.90" width="3.90" height="4.0" fill="#ff6a10" stroke="#000" stroke-opacity="0.5" stroke-width="0.45"/>
<rect x="225.15" y="457.90" width="5.50" height="4.0" fill="#20ee4a" stroke="#000" stroke-opacity="0.5" stroke-width="0.45"/>
<rect x="236.45" y="457.90" width="5.40" height="4.0" fill="#20f0f5" stroke="#000" stroke-opacity="0.5" stroke-width="0.45"/>
<rect x="245.45" y="457.90" width="5.60" height="4.0" fill="#84f522" stroke="#000" stroke-opacity="0.5" stroke-width="0.45"/>
<rect x="251.35" y="457.90" width="4.80" height="4.0" fill="#ffb514" stroke="#000" stroke-opacity="0.5" stroke-width="0.45"/>
<rect x="256.45" y="457.90" width="9.20" height="4.0" fill="#ff1010" stroke="#000" stroke-opacity="0.5" stroke-width="0.45"/>
<rect x="274.35" y="457.90" width="5.50" height="4.0" fill="#7d14f0" stroke="#000" stroke-opacity="0.5" stroke-width="0.45"/>
</g>
<g>
<line x1="299.5" y1="15.50" x2="345.8" y2="15.50" stroke="#6a6a6a" stroke-width="1.05"/>
<line x1="343.7" y1="15.50" x2="345.8" y2="15.50" stroke="#1a1ab0" stroke-width="1.45"/>
<rect x="299.5" y="13.90" width="10.8" height="3.2" rx="0.9" fill="#f3c11b"/>
<rect x="318.8" y="14.25" width="1.2" height="2.5" rx="0.5" fill="#f3c11b"/>
<rect x="329.5" y="13.90" width="14.2" height="3.2" rx="0.9" fill="#f3c11b"/>
<line x1="299.5" y1="24.20" x2="345.5" y2="24.20" stroke="#6a6a6a" stroke-width="1.05"/>
<line x1="343.7" y1="24.20" x2="345.5" y2="24.20" stroke="#1a1ab0" stroke-width="1.45"/>
<rect x="299.5" y="22.60" width="10.8" height="3.2" rx="0.9" fill="#f3c11b"/>
<rect x="318.8" y="22.95" width="1.2" height="2.5" rx="0.5" fill="#f3c11b"/>
<rect x="329.5" y="22.60" width="14.2" height="3.2" rx="0.9" fill="#f3c11b"/>
<line x1="299.5" y1="33.00" x2="344.7" y2="33.00" stroke="#6a6a6a" stroke-width="1.05"/>
<line x1="342.8" y1="33.00" x2="344.7" y2="33.00" stroke="#1a1ab0" stroke-width="1.45"/>
<rect x="299.5" y="31.40" width="10.5" height="3.2" rx="0.9" fill="#f3c11b"/>
<rect x="319.0" y="31.75" width="1.5" height="2.5" rx="0.5" fill="#f3c11b"/>
<rect x="329.5" y="31.40" width="13.3" height="3.2" rx="0.9" fill="#f3c11b"/>
<line x1="299.5" y1="42.20" x2="362.8" y2="42.20" stroke="#6a6a6a" stroke-width="1.05"/>
<line x1="361.2" y1="42.20" x2="362.8" y2="42.20" stroke="#1a1ab0" stroke-width="1.45"/>
<rect x="299.5" y="40.60" width="10.8" height="3.2" rx="0.9" fill="#f3c11b"/>
<rect x="337.0" y="40.95" width="1.0" height="2.5" rx="0.5" fill="#f3c11b"/>
<rect x="347.0" y="40.60" width="14.2" height="3.2" rx="0.9" fill="#f3c11b"/>
<line x1="299.5" y1="49.30" x2="347.5" y2="49.30" stroke="#6a6a6a" stroke-width="1.05"/>
<line x1="299.5" y1="49.30" x2="302.8" y2="49.30" stroke="#1a1ab0" stroke-width="1.45"/>
<line x1="345.8" y1="49.30" x2="347.5" y2="49.30" stroke="#1a1ab0" stroke-width="1.45"/>
<rect x="302.8" y="47.70" width="10.2" height="3.2" rx="0.9" fill="#f3c11b"/>
<rect x="321.0" y="48.05" width="1.3" height="2.5" rx="0.5" fill="#f3c11b"/>
<rect x="331.7" y="47.70" width="14.1" height="3.2" rx="0.9" fill="#f3c11b"/>
<line x1="299.2" y1="58.80" x2="343.7" y2="58.80" stroke="#6a6a6a" stroke-width="1.05"/>
<rect x="299.2" y="57.20" width="9.6" height="3.2" rx="0.9" fill="#f3c11b"/>
<rect x="317.5" y="57.55" width="1.2" height="2.5" rx="0.5" fill="#f3c11b"/>
<rect x="330.0" y="57.20" width="13.7" height="3.2" rx="0.9" fill="#f3c11b"/>
<line x1="298.7" y1="67.50" x2="381.2" y2="67.50" stroke="#6a6a6a" stroke-width="1.05"/>
<line x1="298.7" y1="67.50" x2="300.0" y2="67.50" stroke="#1a1ab0" stroke-width="1.45"/>
<line x1="379.5" y1="67.50" x2="381.2" y2="67.50" stroke="#1a1ab0" stroke-width="1.45"/>
<rect x="300.0" y="65.90" width="10.3" height="3.2" rx="0.9" fill="#f3c11b"/>
<rect x="353.3" y="66.25" width="1.2" height="2.5" rx="0.5" fill="#f3c11b"/>
<rect x="365.3" y="65.90" width="14.2" height="3.2" rx="0.9" fill="#f3c11b"/>
<line x1="299.5" y1="75.80" x2="423.3" y2="75.80" stroke="#6a6a6a" stroke-width="1.05"/>
<line x1="421.7" y1="75.80" x2="423.3" y2="75.80" stroke="#1a1ab0" stroke-width="1.45"/>
<rect x="299.5" y="74.20" width="9.3" height="3.2" rx="0.9" fill="#f3c11b"/>
<rect x="319.5" y="74.55" width="1.2" height="2.5" rx="0.5" fill="#f3c11b"/>
<rect x="408.0" y="74.20" width="13.7" height="3.2" rx="0.9" fill="#f3c11b"/>
<line x1="299.5" y1="85.00" x2="421.7" y2="85.00" stroke="#6a6a6a" stroke-width="1.05"/>
<rect x="299.5" y="83.40" width="9.3" height="3.2" rx="0.9" fill="#f3c11b"/>
<rect x="319.5" y="83.75" width="1.2" height="2.5" rx="0.5" fill="#f3c11b"/>
<rect x="408.0" y="83.40" width="13.7" height="3.2" rx="0.9" fill="#f3c11b"/>
<line x1="300.0" y1="93.80" x2="340.8" y2="93.80" stroke="#6a6a6a" stroke-width="1.05"/>
<line x1="300.0" y1="93.80" x2="305.8" y2="93.80" stroke="#1a1ab0" stroke-width="1.45"/>
<line x1="337.0" y1="93.80" x2="340.8" y2="93.80" stroke="#1a1ab0" stroke-width="1.45"/>
<rect x="306.3" y="92.20" width="3.4" height="3.2" rx="0.9" fill="#f3c11b"/>
<rect x="311.7" y="92.55" width="1.3" height="2.5" rx="0.5" fill="#f3c11b"/>
<rect x="323.3" y="92.20" width="13.7" height="3.2" rx="0.9" fill="#f3c11b"/>
<line x1="300.0" y1="101.00" x2="344.7" y2="101.00" stroke="#6a6a6a" stroke-width="1.05"/>
<rect x="300.0" y="99.40" width="8.8" height="3.2" rx="0.9" fill="#f3c11b"/>
<rect x="310.8" y="99.75" width="1.2" height="2.5" rx="0.5" fill="#f3c11b"/>
<rect x="330.8" y="99.40" width="3.4" height="3.2" rx="0.9" fill="#f3c11b"/>
<rect x="335.5" y="99.40" width="7.8" height="3.2" rx="0.9" fill="#f3c11b"/>
<line x1="300.0" y1="109.70" x2="340.8" y2="109.70" stroke="#6a6a6a" stroke-width="1.05"/>
<line x1="300.0" y1="109.70" x2="301.2" y2="109.70" stroke="#1a1ab0" stroke-width="1.45"/>
<line x1="337.0" y1="109.70" x2="340.8" y2="109.70" stroke="#1a1ab0" stroke-width="1.45"/>
<rect x="301.2" y="108.10" width="8.5" height="3.2" rx="0.9" fill="#f3c11b"/>
<rect x="312.0" y="108.45" width="1.2" height="2.5" rx="0.5" fill="#f3c11b"/>
<rect x="323.7" y="108.10" width="13.3" height="3.2" rx="0.9" fill="#f3c11b"/>
<line x1="300.0" y1="118.30" x2="335.8" y2="118.30" stroke="#6a6a6a" stroke-width="1.05"/>
<rect x="300.0" y="116.70" width="8.8" height="3.2" rx="0.9" fill="#f3c11b"/>
<rect x="310.8" y="117.05" width="1.2" height="2.5" rx="0.5" fill="#f3c11b"/>
<rect x="322.5" y="116.70" width="13.3" height="3.2" rx="0.9" fill="#f3c11b"/>
<line x1="300.0" y1="127.20" x2="347.0" y2="127.20" stroke="#6a6a6a" stroke-width="1.05"/>
<line x1="300.0" y1="127.20" x2="300.8" y2="127.20" stroke="#1a1ab0" stroke-width="1.45"/>
<line x1="345.0" y1="127.20" x2="347.0" y2="127.20" stroke="#1a1ab0" stroke-width="1.45"/>
<rect x="300.8" y="125.60" width="3.7" height="3.2" rx="0.9" fill="#f3c11b"/>
<rect x="306.7" y="125.60" width="5.0" height="3.2" rx="0.9" fill="#f3c11b"/>
<rect x="314.2" y="125.95" width="1.1" height="2.5" rx="0.5" fill="#f3c11b"/>
<rect x="331.3" y="125.60" width="13.7" height="3.2" rx="0.9" fill="#f3c11b"/>
<line x1="300.8" y1="135.50" x2="346.7" y2="135.50" stroke="#6a6a6a" stroke-width="1.05"/>
<rect x="300.8" y="133.90" width="3.7" height="3.2" rx="0.9" fill="#f3c11b"/>
<rect x="306.7" y="133.90" width="5.0" height="3.2" rx="0.9" fill="#f3c11b"/>
<rect x="314.2" y="134.25" width="1.1" height="2.5" rx="0.5" fill="#f3c11b"/>
<rect x="331.3" y="133.90" width="13.7" height="3.2" rx="0.9" fill="#f3c11b"/>
<line x1="300.0" y1="143.30" x2="373.7" y2="143.30" stroke="#6a6a6a" stroke-width="1.05"/>
<rect x="300.0" y="141.70" width="10.3" height="3.2" rx="0.9" fill="#f3c11b"/>
<rect x="323.7" y="142.05" width="1.1" height="2.5" rx="0.5" fill="#f3c11b"/>
<rect x="335.0" y="141.70" width="13.7" height="3.2" rx="0.9" fill="#f3c11b"/>
<rect x="361.5" y="142.05" width="1.5" height="2.5" rx="0.5" fill="#f3c11b"/>
<rect x="370.3" y="141.70" width="3.4" height="3.2" rx="0.9" fill="#f3c11b"/>
<line x1="300.0" y1="151.30" x2="348.0" y2="151.30" stroke="#6a6a6a" stroke-width="1.05"/>
<rect x="300.0" y="149.70" width="10.3" height="3.2" rx="0.9" fill="#f3c11b"/>
<rect x="321.5" y="150.05" width="1.2" height="2.5" rx="0.5" fill="#f3c11b"/>
<rect x="334.5" y="149.70" width="13.5" height="3.2" rx="0.9" fill="#f3c11b"/>
<line x1="300.0" y1="160.20" x2="347.5" y2="160.20" stroke="#6a6a6a" stroke-width="1.05"/>
<rect x="300.0" y="158.60" width="9.7" height="3.2" rx="0.9" fill="#f3c11b"/>
<rect x="320.0" y="158.95" width="1.2" height="2.5" rx="0.5" fill="#f3c11b"/>
<rect x="329.5" y="158.60" width="10.5" height="3.2" rx="0.9" fill="#f3c11b"/>
<line x1="300.0" y1="168.80" x2="338.7" y2="168.80" stroke="#6a6a6a" stroke-width="1.05"/>
<rect x="300.0" y="167.20" width="10.0" height="3.2" rx="0.9" fill="#f3c11b"/>
<rect x="317.8" y="167.55" width="1.2" height="2.5" rx="0.5" fill="#f3c11b"/>
<rect x="324.7" y="167.20" width="14.0" height="3.2" rx="0.9" fill="#f3c11b"/>
<line x1="300.0" y1="176.30" x2="340.3" y2="176.30" stroke="#6a6a6a" stroke-width="1.05"/>
<rect x="300.0" y="174.70" width="9.7" height="3.2" rx="0.9" fill="#f3c11b"/>
<rect x="320.0" y="175.05" width="1.2" height="2.5" rx="0.5" fill="#f3c11b"/>
<rect x="329.2" y="174.70" width="11.1" height="3.2" rx="0.9" fill="#f3c11b"/>
<line x1="300.0" y1="185.20" x2="343.7" y2="185.20" stroke="#6a6a6a" stroke-width="1.05"/>
<line x1="341.3" y1="185.20" x2="343.7" y2="185.20" stroke="#1a1ab0" stroke-width="1.45"/>
<rect x="300.0" y="183.60" width="9.7" height="3.2" rx="0.9" fill="#f3c11b"/>
<rect x="325.0" y="183.95" width="1.0" height="2.5" rx="0.5" fill="#f3c11b"/>
<rect x="328.0" y="183.60" width="13.3" height="3.2" rx="0.9" fill="#f3c11b"/>
<line x1="300.0" y1="193.80" x2="343.0" y2="193.80" stroke="#6a6a6a" stroke-width="1.05"/>
<line x1="341.3" y1="193.80" x2="343.0" y2="193.80" stroke="#1a1ab0" stroke-width="1.45"/>
<rect x="300.0" y="192.20" width="10.3" height="3.2" rx="0.9" fill="#f3c11b"/>
<rect x="325.0" y="192.55" width="1.0" height="2.5" rx="0.5" fill="#f3c11b"/>
<rect x="328.0" y="192.20" width="13.3" height="3.2" rx="0.9" fill="#f3c11b"/>
<line x1="300.0" y1="202.70" x2="474.7" y2="202.70" stroke="#6a6a6a" stroke-width="1.05"/>
<line x1="300.0" y1="202.70" x2="391.0" y2="202.70" stroke="#1a1ab0" stroke-width="1.45"/>
<line x1="470.4" y1="202.70" x2="474.7" y2="202.70" stroke="#1a1ab0" stroke-width="1.45"/>
<rect x="391.0" y="201.10" width="8.8" height="3.2" rx="0.9" fill="#f3c11b"/>
<rect x="454.8" y="201.10" width="3.0" height="3.2" rx="0.9" fill="#f3c11b"/>
<rect x="460.0" y="201.10" width="10.4" height="3.2" rx="0.9" fill="#f3c11b"/>
<line x1="300.0" y1="210.80" x2="388.8" y2="210.80" stroke="#6a6a6a" stroke-width="1.05"/>
<line x1="300.0" y1="210.80" x2="305.3" y2="210.80" stroke="#1a1ab0" stroke-width="1.45"/>
<line x1="384.2" y1="210.80" x2="388.8" y2="210.80" stroke="#1a1ab0" stroke-width="1.45"/>
<rect x="305.3" y="209.20" width="8.5" height="3.2" rx="0.9" fill="#f3c11b"/>
<rect x="368.7" y="209.20" width="3.0" height="3.2" rx="0.9" fill="#f3c11b"/>
<rect x="374.6" y="209.20" width="9.6" height="3.2" rx="0.9" fill="#f3c11b"/>
<line x1="300.0" y1="219.70" x2="474.7" y2="219.70" stroke="#6a6a6a" stroke-width="1.05"/>
<line x1="300.0" y1="219.70" x2="302.5" y2="219.70" stroke="#1a1ab0" stroke-width="1.45"/>
<line x1="470.1" y1="219.70" x2="474.7" y2="219.70" stroke="#1a1ab0" stroke-width="1.45"/>
<rect x="302.5" y="218.10" width="8.8" height="3.2" rx="0.9" fill="#f3c11b"/>
<rect x="454.8" y="218.10" width="3.0" height="3.2" rx="0.9" fill="#f3c11b"/>
<rect x="460.5" y="218.10" width="9.6" height="3.2" rx="0.9" fill="#f3c11b"/>
<line x1="300.0" y1="227.70" x2="340.0" y2="227.70" stroke="#6a6a6a" stroke-width="1.05"/>
<line x1="337.5" y1="227.70" x2="340.0" y2="227.70" stroke="#1a1ab0" stroke-width="1.45"/>
<rect x="300.0" y="226.10" width="8.0" height="3.2" rx="0.9" fill="#f3c11b"/>
<rect x="318.5" y="226.45" width="2.0" height="2.5" rx="0.5" fill="#f3c11b"/>
<rect x="327.0" y="226.10" width="10.5" height="3.2" rx="0.9" fill="#f3c11b"/>
<line x1="300.0" y1="237.50" x2="472.4" y2="237.50" stroke="#6a6a6a" stroke-width="1.05"/>
<line x1="300.0" y1="237.50" x2="302.2" y2="237.50" stroke="#1a1ab0" stroke-width="1.45"/>
<line x1="468.5" y1="237.50" x2="472.4" y2="237.50" stroke="#1a1ab0" stroke-width="1.45"/>
<rect x="302.2" y="235.90" width="9.0" height="3.2" rx="0.9" fill="#f3c11b"/>
<rect x="452.0" y="235.90" width="2.3" height="3.2" rx="0.9" fill="#f3c11b"/>
<rect x="458.9" y="235.90" width="9.6" height="3.2" rx="0.9" fill="#f3c11b"/>
<line x1="300.0" y1="246.00" x2="472.4" y2="246.00" stroke="#6a6a6a" stroke-width="1.05"/>
<line x1="300.0" y1="246.00" x2="438.0" y2="246.00" stroke="#1a1ab0" stroke-width="1.45"/>
<line x1="468.5" y1="246.00" x2="472.4" y2="246.00" stroke="#1a1ab0" stroke-width="1.45"/>
<rect x="438.0" y="244.40" width="8.0" height="3.2" rx="0.9" fill="#f3c11b"/>
<rect x="452.0" y="244.40" width="2.3" height="3.2" rx="0.9" fill="#f3c11b"/>
<rect x="458.9" y="244.40" width="9.6" height="3.2" rx="0.9" fill="#f3c11b"/>
<line x1="300.0" y1="255.50" x2="389.5" y2="255.50" stroke="#6a6a6a" stroke-width="1.05"/>
<rect x="300.0" y="253.90" width="9.7" height="3.2" rx="0.9" fill="#f3c11b"/>
<rect x="310.8" y="254.25" width="0.9" height="2.5" rx="0.5" fill="#f3c11b"/>
<rect x="321.2" y="253.90" width="11.3" height="3.2" rx="0.9" fill="#f3c11b"/>
<rect x="384.2" y="253.90" width="5.3" height="3.2" rx="0.9" fill="#f3c11b"/>
<line x1="300.0" y1="263.30" x2="333.3" y2="263.30" stroke="#6a6a6a" stroke-width="1.05"/>
<rect x="300.0" y="261.70" width="9.7" height="3.2" rx="0.9" fill="#f3c11b"/>
<rect x="310.8" y="262.05" width="0.9" height="2.5" rx="0.5" fill="#f3c11b"/>
<rect x="321.2" y="261.70" width="12.1" height="3.2" rx="0.9" fill="#f3c11b"/>
<line x1="300.0" y1="271.30" x2="328.3" y2="271.30" stroke="#6a6a6a" stroke-width="1.05"/>
<rect x="300.0" y="269.70" width="9.7" height="3.2" rx="0.9" fill="#f3c11b"/>
<rect x="311.7" y="270.05" width="1.1" height="2.5" rx="0.5" fill="#f3c11b"/>
<rect x="315.0" y="269.70" width="13.3" height="3.2" rx="0.9" fill="#f3c11b"/>
<line x1="300.0" y1="279.70" x2="328.3" y2="279.70" stroke="#6a6a6a" stroke-width="1.05"/>
<rect x="300.0" y="278.10" width="9.7" height="3.2" rx="0.9" fill="#f3c11b"/>
<rect x="311.7" y="278.45" width="1.1" height="2.5" rx="0.5" fill="#f3c11b"/>
<rect x="315.0" y="278.10" width="13.3" height="3.2" rx="0.9" fill="#f3c11b"/>
<line x1="300.0" y1="289.20" x2="371.3" y2="289.20" stroke="#6a6a6a" stroke-width="1.05"/>
<rect x="300.0" y="287.60" width="10.0" height="3.2" rx="0.9" fill="#f3c11b"/>
<rect x="311.7" y="287.95" width="1.1" height="2.5" rx="0.5" fill="#f3c11b"/>
<rect x="358.3" y="287.60" width="13.0" height="3.2" rx="0.9" fill="#f3c11b"/>
<line x1="300.0" y1="297.20" x2="373.3" y2="297.20" stroke="#6a6a6a" stroke-width="1.05"/>
<line x1="300.0" y1="297.20" x2="300.8" y2="297.20" stroke="#1a1ab0" stroke-width="1.45"/>
<line x1="372.5" y1="297.20" x2="373.3" y2="297.20" stroke="#1a1ab0" stroke-width="1.45"/>
<rect x="300.8" y="295.60" width="10.0" height="3.2" rx="0.9" fill="#f3c11b"/>
<rect x="312.3" y="295.95" width="1.1" height="2.5" rx="0.5" fill="#f3c11b"/>
<rect x="359.5" y="295.60" width="13.0" height="3.2" rx="0.9" fill="#f3c11b"/>
<line x1="300.0" y1="305.50" x2="338.7" y2="305.50" stroke="#6a6a6a" stroke-width="1.05"/>
<rect x="300.0" y="303.90" width="2.8" height="3.2" rx="0.9" fill="#f3c11b"/>
<rect x="319.2" y="304.25" width="1.1" height="2.5" rx="0.5" fill="#f3c11b"/>
<rect x="323.7" y="303.90" width="15.0" height="3.2" rx="0.9" fill="#f3c11b"/>
<line x1="300.0" y1="315.00" x2="341.3" y2="315.00" stroke="#6a6a6a" stroke-width="1.05"/>
<line x1="339.7" y1="315.00" x2="341.3" y2="315.00" stroke="#1a1ab0" stroke-width="1.45"/>
<rect x="300.0" y="313.40" width="5.0" height="3.2" rx="0.9" fill="#f3c11b"/>
<rect x="313.8" y="313.40" width="5.4" height="3.2" rx="0.9" fill="#f3c11b"/>
<rect x="320.7" y="313.75" width="1.1" height="2.5" rx="0.5" fill="#f3c11b"/>
<rect x="325.0" y="313.40" width="14.7" height="3.2" rx="0.9" fill="#f3c11b"/>
<line x1="300.0" y1="324.20" x2="338.7" y2="324.20" stroke="#6a6a6a" stroke-width="1.05"/>
<rect x="300.0" y="322.60" width="2.8" height="3.2" rx="0.9" fill="#f3c11b"/>
<rect x="312.5" y="322.60" width="5.0" height="3.2" rx="0.9" fill="#f3c11b"/>
<rect x="319.5" y="322.95" width="1.2" height="2.5" rx="0.5" fill="#f3c11b"/>
<rect x="323.7" y="322.60" width="15.0" height="3.2" rx="0.9" fill="#f3c11b"/>
<line x1="300.0" y1="332.20" x2="399.3" y2="332.20" stroke="#6a6a6a" stroke-width="1.05"/>
<rect x="300.0" y="330.60" width="9.7" height="3.2" rx="0.9" fill="#f3c11b"/>
<rect x="312.0" y="330.95" width="1.2" height="2.5" rx="0.5" fill="#f3c11b"/>
<rect x="329.2" y="330.60" width="5.3" height="3.2" rx="0.9" fill="#f3c11b"/>
<rect x="391.0" y="330.60" width="8.3" height="3.2" rx="0.9" fill="#f3c11b"/>
<line x1="300.0" y1="340.80" x2="378.5" y2="340.80" stroke="#6a6a6a" stroke-width="1.05"/>
<rect x="300.0" y="339.55" width="1.7" height="2.5" rx="0.5" fill="#f3c11b"/>
<rect x="302.5" y="339.20" width="7.2" height="3.2" rx="0.9" fill="#f3c11b"/>
<rect x="312.3" y="339.55" width="1.2" height="2.5" rx="0.5" fill="#f3c11b"/>
<rect x="364.2" y="339.20" width="14.3" height="3.2" rx="0.9" fill="#f3c11b"/>
<line x1="300.0" y1="348.50" x2="342.0" y2="348.50" stroke="#6a6a6a" stroke-width="1.05"/>
<rect x="300.0" y="346.90" width="9.7" height="3.2" rx="0.9" fill="#f3c11b"/>
<rect x="317.8" y="347.25" width="1.2" height="2.5" rx="0.5" fill="#f3c11b"/>
<rect x="329.2" y="346.90" width="12.8" height="3.2" rx="0.9" fill="#f3c11b"/>
<line x1="300.0" y1="358.00" x2="436.5" y2="358.00" stroke="#6a6a6a" stroke-width="1.05"/>
<line x1="300.0" y1="358.00" x2="302.0" y2="358.00" stroke="#1a1ab0" stroke-width="1.45"/>
<line x1="434.8" y1="358.00" x2="436.5" y2="358.00" stroke="#1a1ab0" stroke-width="1.45"/>
<rect x="302.0" y="356.40" width="9.7" height="3.2" rx="0.9" fill="#f3c11b"/>
<rect x="350.7" y="356.75" width="1.1" height="2.5" rx="0.5" fill="#f3c11b"/>
<rect x="421.6" y="356.40" width="13.2" height="3.2" rx="0.9" fill="#f3c11b"/>
<line x1="300.0" y1="366.80" x2="430.3" y2="366.80" stroke="#6a6a6a" stroke-width="1.05"/>
<line x1="300.0" y1="366.80" x2="302.0" y2="366.80" stroke="#1a1ab0" stroke-width="1.45"/>
<line x1="428.9" y1="366.80" x2="430.3" y2="366.80" stroke="#1a1ab0" stroke-width="1.45"/>
<rect x="302.0" y="365.20" width="9.7" height="3.2" rx="0.9" fill="#f3c11b"/>
<rect x="344.8" y="365.55" width="1.2" height="2.5" rx="0.5" fill="#f3c11b"/>
<rect x="415.1" y="365.20" width="13.8" height="3.2" rx="0.9" fill="#f3c11b"/>
<line x1="300.0" y1="375.00" x2="430.3" y2="375.00" stroke="#6a6a6a" stroke-width="1.05"/>
<line x1="300.0" y1="375.00" x2="302.0" y2="375.00" stroke="#1a1ab0" stroke-width="1.45"/>
<line x1="428.9" y1="375.00" x2="430.3" y2="375.00" stroke="#1a1ab0" stroke-width="1.45"/>
<rect x="302.0" y="373.40" width="9.7" height="3.2" rx="0.9" fill="#f3c11b"/>
<rect x="344.8" y="373.75" width="1.2" height="2.5" rx="0.5" fill="#f3c11b"/>
<rect x="415.1" y="373.40" width="13.8" height="3.2" rx="0.9" fill="#f3c11b"/>
<line x1="300.0" y1="383.80" x2="430.7" y2="383.80" stroke="#6a6a6a" stroke-width="1.05"/>
<line x1="300.0" y1="383.80" x2="302.0" y2="383.80" stroke="#1a1ab0" stroke-width="1.45"/>
<line x1="429.1" y1="383.80" x2="430.7" y2="383.80" stroke="#1a1ab0" stroke-width="1.45"/>
<rect x="302.0" y="382.20" width="9.7" height="3.2" rx="0.9" fill="#f3c11b"/>
<rect x="415.8" y="382.20" width="13.3" height="3.2" rx="0.9" fill="#f3c11b"/>
<line x1="300.0" y1="392.70" x2="333.7" y2="392.70" stroke="#6a6a6a" stroke-width="1.05"/>
<line x1="331.3" y1="392.70" x2="333.7" y2="392.70" stroke="#1a1ab0" stroke-width="1.45"/>
<rect x="300.0" y="391.10" width="11.2" height="3.2" rx="0.9" fill="#f3c11b"/>
<rect x="314.0" y="391.45" width="1.2" height="2.5" rx="0.5" fill="#f3c11b"/>
<rect x="317.0" y="391.10" width="14.3" height="3.2" rx="0.9" fill="#f3c11b"/>
<line x1="300.0" y1="401.30" x2="330.5" y2="401.30" stroke="#6a6a6a" stroke-width="1.05"/>
<rect x="300.0" y="399.70" width="10.3" height="3.2" rx="0.9" fill="#f3c11b"/>
<rect x="312.5" y="400.05" width="1.2" height="2.5" rx="0.5" fill="#f3c11b"/>
<rect x="315.8" y="399.70" width="14.7" height="3.2" rx="0.9" fill="#f3c11b"/>
<line x1="300.0" y1="410.80" x2="333.0" y2="410.80" stroke="#6a6a6a" stroke-width="1.05"/>
<line x1="330.8" y1="410.80" x2="333.0" y2="410.80" stroke="#1a1ab0" stroke-width="1.45"/>
<rect x="300.0" y="409.20" width="10.3" height="3.2" rx="0.9" fill="#f3c11b"/>
<rect x="312.8" y="409.55" width="1.2" height="2.5" rx="0.5" fill="#f3c11b"/>
<rect x="316.2" y="409.20" width="14.6" height="3.2" rx="0.9" fill="#f3c11b"/>
<line x1="300.0" y1="418.80" x2="338.3" y2="418.80" stroke="#6a6a6a" stroke-width="1.05"/>
<line x1="300.0" y1="418.80" x2="300.8" y2="418.80" stroke="#1a1ab0" stroke-width="1.45"/>
<line x1="335.8" y1="418.80" x2="338.3" y2="418.80" stroke="#1a1ab0" stroke-width="1.45"/>
<rect x="300.8" y="417.20" width="10.4" height="3.2" rx="0.9" fill="#f3c11b"/>
<rect x="313.3" y="417.55" width="1.2" height="2.5" rx="0.5" fill="#f3c11b"/>
<rect x="321.2" y="417.20" width="14.6" height="3.2" rx="0.9" fill="#f3c11b"/>
<line x1="300.0" y1="428.00" x2="359.7" y2="428.00" stroke="#6a6a6a" stroke-width="1.05"/>
<line x1="357.8" y1="428.00" x2="359.7" y2="428.00" stroke="#1a1ab0" stroke-width="1.45"/>
<rect x="300.0" y="426.40" width="11.0" height="3.2" rx="0.9" fill="#f3c11b"/>
<rect x="320.8" y="426.75" width="1.2" height="2.5" rx="0.5" fill="#f3c11b"/>
<rect x="343.0" y="426.40" width="14.8" height="3.2" rx="0.9" fill="#f3c11b"/>
<line x1="300.0" y1="436.20" x2="336.3" y2="436.20" stroke="#6a6a6a" stroke-width="1.05"/>
<line x1="334.0" y1="436.20" x2="336.3" y2="436.20" stroke="#1a1ab0" stroke-width="1.45"/>
<rect x="300.0" y="434.60" width="10.4" height="3.2" rx="0.9" fill="#f3c11b"/>
<rect x="312.3" y="434.95" width="1.2" height="2.5" rx="0.5" fill="#f3c11b"/>
<rect x="319.8" y="434.60" width="14.2" height="3.2" rx="0.9" fill="#f3c11b"/>
<line x1="300.3" y1="444.70" x2="337.8" y2="444.70" stroke="#6a6a6a" stroke-width="1.05"/>
<line x1="335.7" y1="444.70" x2="337.8" y2="444.70" stroke="#1a1ab0" stroke-width="1.45"/>
<rect x="300.3" y="443.10" width="9.3" height="3.2" rx="0.9" fill="#f3c11b"/>
<rect x="311.8" y="443.45" width="1.2" height="2.5" rx="0.5" fill="#f3c11b"/>
<rect x="321.6" y="443.10" width="14.1" height="3.2" rx="0.9" fill="#f3c11b"/>
<line x1="300.3" y1="453.50" x2="340.0" y2="453.50" stroke="#6a6a6a" stroke-width="1.05"/>
<line x1="339.0" y1="453.50" x2="340.0" y2="453.50" stroke="#1a1ab0" stroke-width="1.45"/>
<rect x="300.3" y="451.90" width="10.1" height="3.2" rx="0.9" fill="#f3c11b"/>
<rect x="312.7" y="452.25" width="1.2" height="2.5" rx="0.5" fill="#f3c11b"/>
<rect x="325.0" y="451.90" width="14.0" height="3.2" rx="0.9" fill="#f3c11b"/>
<line x1="300.3" y1="462.50" x2="341.9" y2="462.50" stroke="#6a6a6a" stroke-width="1.05"/>
<line x1="339.6" y1="462.50" x2="341.9" y2="462.50" stroke="#1a1ab0" stroke-width="1.45"/>
<rect x="300.3" y="460.90" width="10.1" height="3.2" rx="0.9" fill="#f3c11b"/>
<rect x="312.7" y="461.25" width="1.2" height="2.5" rx="0.5" fill="#f3c11b"/>
<rect x="325.0" y="460.90" width="14.6" height="3.2" rx="0.9" fill="#f3c11b"/>
</g>
<g stroke="#555" stroke-width="0.5">
<line x1="299" y1="470.8" x2="475.3" y2="470.8" stroke="#8c8c8c" stroke-width="0.9"/>
<line x1="299.00" y1="469.6" x2="299.00" y2="470.8"/>
<line x1="310.75" y1="469.6" x2="310.75" y2="470.8"/>
<line x1="322.50" y1="469.6" x2="322.50" y2="470.8"/>
<line x1="334.25" y1="469.6" x2="334.25" y2="470.8"/>
<line x1="346.00" y1="469.6" x2="346.00" y2="470.8"/>
<line x1="357.75" y1="469.6" x2="357.75" y2="470.8"/>
<line x1="369.50" y1="469.6" x2="369.50" y2="470.8"/>
<line x1="381.25" y1="469.6" x2="381.25" y2="470.8"/>
<line x1="393.00" y1="469.6" x2="393.00" y2="470.8"/>
<line x1="404.75" y1="469.6" x2="404.75" y2="470.8"/>
<line x1="416.50" y1="469.6" x2="416.50" y2="470.8"/>
<line x1="428.25" y1="469.6" x2="428.25" y2="470.8"/>
<line x1="440.00" y1="469.6" x2="440.00" y2="470.8"/>
<line x1="451.75" y1="469.6" x2="451.75" y2="470.8"/>
<line x1="463.50" y1="469.6" x2="463.50" y2="470.8"/>
<line x1="475.25" y1="469.6" x2="475.25" y2="470.8"/>
</g>
<g font-family="'Liberation Sans', sans-serif" font-size="2.4" fill="#222" text-anchor="middle">
<text x="299.00" y="474.3">0kb</text>
<text x="310.75" y="474.3">1kb</text>
<text x="322.50" y="474.3">2kb</text>
<text x="334.25" y="474.3">3kb</text>
<text x="346.00" y="474.3">4kb</text>
<text x="357.75" y="474.3">5kb</text>
<text x="369.50" y="474.3">6kb</text>
<text x="381.25" y="474.3">7kb</text>
<text x="393.00" y="474.3">8kb</text>
<text x="404.75" y="474.3">9kb</text>
<text x="416.50" y="474.3">10kb</text>
<text x="428.25" y="474.3">11kb</text>
<text x="440.00" y="474.3">12kb</text>
<text x="451.75" y="474.3">13kb</text>
<text x="463.50" y="474.3">14kb</text>
<text x="475.25" y="474.3">15kb</text>
<text x="297.8" y="468.6">5'</text><text x="476" y="468.6">3'</text>
</g>
<g font-family="'Liberation Serif', serif" fill="#222" stroke="#222" stroke-width="0.1">
<text x="312" y="491.5" font-size="5.3">Legend:</text>
<rect x="312.3" y="495.8" width="5.6" height="3.0" rx="1.1" fill="#f3c11b" stroke="none"/>
<text x="320" y="499.6" font-size="6.3">CDS</text>
<line x1="334.7" y1="497.4" x2="340.5" y2="497.4" stroke="#1a1ab0" stroke-width="1.3"/>
<text x="344.2" y="499.6" font-size="6.3">upstream/downstream</text>
<line x1="406.8" y1="497.4" x2="417.5" y2="497.4" stroke="#333" stroke-width="1.1"/>
<text x="420.2" y="499.6" font-size="6.3">intron</text>
</g>
<rect x="65.5" y="474.1" width="225.8" height="71.4" fill="#fff" stroke="#8a8a8a" stroke-width="0.6"/>
<g font-family="'Liberation Sans', sans-serif" font-size="5.8" font-weight="bold" fill="#111">
<text x="68.7" y="483.3">Motif</text><text x="86.7" y="483.3">Symbol</text><text x="112.5" y="483.3">Motif Consensus</text>
</g>
<text x="82" y="491.10" text-anchor="end" font-family="'Liberation Sans', sans-serif" font-size="6.8" fill="#111">1.</text>
<rect x="86.3" y="486.50" width="21.75" height="4.4" fill="#ff1010" stroke="#555" stroke-width="0.25"/>
<text x="113" y="489.90" font-family="'Liberation Mono', monospace" font-size="5.83" fill="#3c3c3c">DQTHLTTLVQGTLGYLDPEYFQTSQLTDKSDVYSFGVVLVELLTGEKAIS</text>
<text x="82" y="496.60" text-anchor="end" font-family="'Liberation Sans', sans-serif" font-size="6.8" fill="#111">2.</text>
<rect x="86.3" y="492.00" width="12.5" height="4.4" fill="#20f0f5" stroke="#555" stroke-width="0.25"/>
<text x="113" y="495.40" font-family="'Liberation Mono', monospace" font-size="5.83" fill="#3c3c3c">QINHRNVVKLLGCCLETEVPLLVYEFIPN</text>
<text x="82" y="502.10" text-anchor="end" font-family="'Liberation Sans', sans-serif" font-size="6.8" fill="#111">3.</text>
<rect x="86.3" y="497.50" width="13" height="4.4" fill="#84f522" stroke="#555" stroke-width="0.25"/>
<text x="113" y="500.90" font-family="'Liberation Mono', monospace" font-size="5.83" fill="#3c3c3c">LSWEMRLRIATETAGALAYLHSSTSTPIIH</text>
<text x="82" y="507.60" text-anchor="end" font-family="'Liberation Sans', sans-serif" font-size="6.8" fill="#111">4.</text>
<rect x="86.3" y="503.00" width="13.75" height="4.4" fill="#7d14f0" stroke="#555" stroke-width="0.25"/>
<text x="113" y="506.40" font-family="'Liberation Mono', monospace" font-size="5.83" fill="#3c3c3c">EIKAVANLAKRCLRVKGEERPTMKEVAEELEG</text>
<text x="82" y="513.10" text-anchor="end" font-family="'Liberation Sans', sans-serif" font-size="6.8" fill="#111">5.</text>
<rect x="86.3" y="508.50" width="12.5" height="4.4" fill="#ffb514" stroke="#555" stroke-width="0.25"/>
<text x="113" y="511.90" font-family="'Liberation Mono', monospace" font-size="5.83" fill="#3c3c3c">RDIKSTNILLDENYTAKVSDFGASRLIPI</text>
<text x="82" y="518.60" text-anchor="end" font-family="'Liberation Sans', sans-serif" font-size="6.8" fill="#111">6.</text>
<rect x="86.3" y="514.00" width="13.25" height="4.4" fill="#20ee4a" stroke="#555" stroke-width="0.25"/>
<text x="113" y="517.40" font-family="'Liberation Mono', monospace" font-size="5.83" fill="#3c3c3c">RIJGZGGYGTVYKGILTDNRIVAIKKSKIG</text>
<text x="82" y="524.10" text-anchor="end" font-family="'Liberation Sans', sans-serif" font-size="6.8" fill="#111">7.</text>
<rect x="86.3" y="519.50" width="9.25" height="4.4" fill="#0a32e0" stroke="#555" stroke-width="0.25"/>
<text x="113" y="522.90" font-family="'Liberation Mono', monospace" font-size="5.83" fill="#3c3c3c">HTSVWSPNPCSYAPVAEENSF</text>
<text x="82" y="529.60" text-anchor="end" font-family="'Liberation Sans', sans-serif" font-size="6.8" fill="#111">8.</text>
<rect x="86.3" y="525.00" width="7.5" height="4.4" fill="#ff10b0" stroke="#555" stroke-width="0.25"/>
<text x="113" y="528.40" font-family="'Liberation Mono', monospace" font-size="5.83" fill="#3c3c3c">NGSGYLCRCKEGYEGNP</text>
<text x="82" y="535.10" text-anchor="end" font-family="'Liberation Sans', sans-serif" font-size="6.8" fill="#111">9.</text>
<rect x="86.3" y="530.50" width="9.25" height="4.4" fill="#ff6a10" stroke="#555" stroke-width="0.25"/>
<text x="113" y="533.90" font-family="'Liberation Mono', monospace" font-size="5.83" fill="#3c3c3c">ISTTKIPTAEELEKATNNFDZ</text>
<text x="82" y="540.60" text-anchor="end" font-family="'Liberation Sans', sans-serif" font-size="6.8" fill="#111">10.</text>
<rect x="86.3" y="536.00" width="11.25" height="4.4" fill="#e4f520" stroke="#555" stroke-width="0.25"/>
<text x="113" y="539.40" font-family="'Liberation Mono', monospace" font-size="5.83" fill="#3c3c3c">VKKRKLIKLKEKFFQQNGGLLLQQQL</text>
</svg>
</body></html>
